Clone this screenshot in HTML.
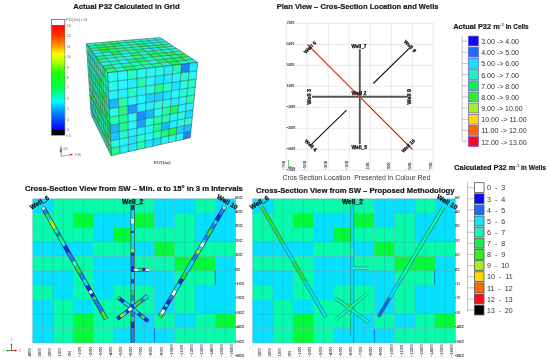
<!DOCTYPE html>
<html><head><meta charset="utf-8"><title>P32 figure</title>
<style>
html,body{margin:0;padding:0;background:#fff;}
body{width:550px;height:363px;overflow:hidden;}
svg{display:block;font-family:"Liberation Sans","DejaVu Sans",sans-serif;}
</style></head><body>
<svg width="550" height="363" viewBox="0 0 550 363">
<rect width="550" height="363" fill="#fff"/>
<text x="73.20" y="8.70" font-size="7.7" font-weight="bold" fill="#1a1a1a" textLength="106.40" lengthAdjust="spacingAndGlyphs" stroke="#1a1a1a" stroke-width="0.22">Actual P32 Calculated in Grid</text>
<text x="276.80" y="9.10" font-size="7.7" font-weight="bold" fill="#1a1a1a" textLength="161.70" lengthAdjust="spacingAndGlyphs" stroke="#1a1a1a" stroke-width="0.22">Plan View – Cros-Section Location and Wells</text>
<text x="24.90" y="191.40" font-size="7.6" font-weight="bold" fill="#1a1a1a" textLength="218.00" lengthAdjust="spacingAndGlyphs" stroke="#1a1a1a" stroke-width="0.22">Cross-Section View from SW – Min. α to 15° in 3 m Intervals</text>
<text x="256.00" y="192.90" font-size="7.6" font-weight="bold" fill="#1a1a1a" textLength="198.50" lengthAdjust="spacingAndGlyphs" stroke="#1a1a1a" stroke-width="0.22">Cross-Section View from SW – Proposed Methodology</text>
<g>
<polygon points="86.30,43.70 94.18,43.04 96.03,45.33 87.99,46.03" fill="#28f4e4"/>
<polygon points="87.99,46.03 96.03,45.33 97.96,47.73 89.75,48.46" fill="#21f590"/>
<polygon points="89.75,48.46 97.96,47.73 99.98,50.24 91.60,51.01" fill="#20f486"/>
<polygon points="91.60,51.01 99.98,50.24 102.10,52.87 93.53,53.68" fill="#29f1f9"/>
<polygon points="93.53,53.68 102.10,52.87 104.32,55.62 95.56,56.48" fill="#28f3e8"/>
<polygon points="95.56,56.48 104.32,55.62 106.65,58.51 97.69,59.41" fill="#1ff37a"/>
<polygon points="97.69,59.41 106.65,58.51 109.09,61.55 99.93,62.50" fill="#21f592"/>
<polygon points="99.93,62.50 109.09,61.55 111.67,64.75 102.29,65.76" fill="#29f1f9"/>
<polygon points="102.29,65.76 111.67,64.75 114.38,68.12 104.78,69.18" fill="#22ef3e"/>
<polygon points="104.78,69.18 114.38,68.12 117.24,71.67 107.40,72.80" fill="#22f6a0"/>
<polygon points="94.18,43.04 101.94,42.38 103.95,44.65 96.03,45.33" fill="#25f6c2"/>
<polygon points="96.03,45.33 103.95,44.65 106.04,47.01 97.96,47.73" fill="#1cf15c"/>
<polygon points="97.96,47.73 106.04,47.01 108.23,49.48 99.98,50.24" fill="#26ee3b"/>
<polygon points="99.98,50.24 108.23,49.48 110.52,52.07 102.10,52.87" fill="#1af047"/>
<polygon points="102.10,52.87 110.52,52.07 112.92,54.78 104.32,55.62" fill="#27f5d6"/>
<polygon points="104.32,55.62 112.92,54.78 115.44,57.63 106.65,58.51" fill="#23f7ae"/>
<polygon points="106.65,58.51 115.44,57.63 118.09,60.62 109.09,61.55" fill="#29f1f8"/>
<polygon points="109.09,61.55 118.09,60.62 120.87,63.76 111.67,64.75" fill="#21f593"/>
<polygon points="111.67,64.75 120.87,63.76 123.80,67.07 114.38,68.12" fill="#29f2f0"/>
<polygon points="114.38,68.12 123.80,67.07 126.89,70.56 117.24,71.67" fill="#24f7b2"/>
<polygon points="101.94,42.38 109.59,41.74 111.74,43.97 103.95,44.65" fill="#20f483"/>
<polygon points="103.95,44.65 111.74,43.97 113.99,46.30 106.04,47.01" fill="#20f485"/>
<polygon points="106.04,47.01 113.99,46.30 116.34,48.74 108.23,49.48" fill="#3beb27"/>
<polygon points="108.23,49.48 116.34,48.74 118.80,51.29 110.52,52.07" fill="#23f7a8"/>
<polygon points="110.52,52.07 118.80,51.29 121.38,53.96 112.92,54.78" fill="#1cf044"/>
<polygon points="112.92,54.78 121.38,53.96 124.08,56.76 115.44,57.63" fill="#20f488"/>
<polygon points="115.44,57.63 124.08,56.76 126.92,59.70 118.09,60.62" fill="#27f5da"/>
<polygon points="118.09,60.62 126.92,59.70 129.91,62.79 120.87,63.76" fill="#29f1fa"/>
<polygon points="120.87,63.76 129.91,62.79 133.05,66.04 123.80,67.07" fill="#22f69e"/>
<polygon points="123.80,67.07 133.05,66.04 136.35,69.47 126.89,70.56" fill="#1df268"/>
<polygon points="109.59,41.74 117.12,41.11 119.42,43.31 111.74,43.97" fill="#20f37f"/>
<polygon points="111.74,43.97 119.42,43.31 121.82,45.61 113.99,46.30" fill="#1af14e"/>
<polygon points="113.99,46.30 121.82,45.61 124.33,48.01 116.34,48.74" fill="#22f6a2"/>
<polygon points="116.34,48.74 124.33,48.01 126.95,50.52 118.80,51.29" fill="#21f596"/>
<polygon points="118.80,51.29 126.95,50.52 129.70,53.15 121.38,53.96" fill="#25f6c5"/>
<polygon points="121.38,53.96 129.70,53.15 132.58,55.90 124.08,56.76" fill="#28f4e5"/>
<polygon points="124.08,56.76 132.58,55.90 135.60,58.80 126.92,59.70" fill="#27f5d2"/>
<polygon points="126.92,59.70 135.60,58.80 138.78,61.84 129.91,62.79" fill="#1ef270"/>
<polygon points="129.91,62.79 138.78,61.84 142.12,65.03 133.05,66.04" fill="#24f7b4"/>
<polygon points="133.05,66.04 142.12,65.03 145.64,68.40 136.35,69.47" fill="#23f6a5"/>
<polygon points="117.12,41.11 124.53,40.48 126.97,42.65 119.42,43.31" fill="#26f6cd"/>
<polygon points="119.42,43.31 126.97,42.65 129.52,44.92 121.82,45.61" fill="#27f5dd"/>
<polygon points="121.82,45.61 129.52,44.92 132.18,47.29 124.33,48.01" fill="#24f7b5"/>
<polygon points="124.33,48.01 132.18,47.29 134.96,49.76 126.95,50.52" fill="#23f6a5"/>
<polygon points="126.95,50.52 134.96,49.76 137.87,52.35 129.70,53.15" fill="#24f7af"/>
<polygon points="129.70,53.15 137.87,52.35 140.92,55.06 132.58,55.90" fill="#1fef41"/>
<polygon points="132.58,55.90 140.92,55.06 144.12,57.91 135.60,58.80" fill="#24f7b0"/>
<polygon points="135.60,58.80 144.12,57.91 147.49,60.90 138.78,61.84" fill="#1af04b"/>
<polygon points="138.78,61.84 147.49,60.90 151.02,64.04 142.12,65.03" fill="#23f7a9"/>
<polygon points="142.12,65.03 151.02,64.04 154.74,67.35 145.64,68.40" fill="#23f7ad"/>
<polygon points="124.53,40.48 131.84,39.87 134.41,42.01 126.97,42.65" fill="#22f6a1"/>
<polygon points="126.97,42.65 134.41,42.01 137.10,44.24 129.52,44.92" fill="#24f7b6"/>
<polygon points="129.52,44.92 137.10,44.24 139.91,46.58 132.18,47.29" fill="#22f6a0"/>
<polygon points="132.18,47.29 139.91,46.58 142.84,49.01 134.96,49.76" fill="#26f6c9"/>
<polygon points="134.96,49.76 142.84,49.01 145.91,51.57 137.87,52.35" fill="#1cf159"/>
<polygon points="137.87,52.35 145.91,51.57 149.13,54.24 140.92,55.06" fill="#27f5d8"/>
<polygon points="140.92,55.06 149.13,54.24 152.50,57.04 144.12,57.91" fill="#22f596"/>
<polygon points="144.12,57.91 152.50,57.04 156.04,59.98 147.49,60.90" fill="#24ebfa"/>
<polygon points="147.49,60.90 156.04,59.98 159.76,63.07 151.02,64.04" fill="#26f6c7"/>
<polygon points="151.02,64.04 159.76,63.07 163.68,66.33 154.74,67.35" fill="#21f595"/>
<polygon points="131.84,39.87 139.03,39.26 141.74,41.38 134.41,42.01" fill="#27f5da"/>
<polygon points="134.41,42.01 141.74,41.38 144.57,43.58 137.10,44.24" fill="#23f7af"/>
<polygon points="137.10,44.24 144.57,43.58 147.52,45.88 139.91,46.58" fill="#1bf156"/>
<polygon points="139.91,46.58 147.52,45.88 150.60,48.28 142.84,49.01" fill="#20f37f"/>
<polygon points="142.84,49.01 150.60,48.28 153.82,50.79 145.91,51.57" fill="#27eefa"/>
<polygon points="145.91,51.57 153.82,50.79 157.20,53.43 149.13,54.24" fill="#20f37f"/>
<polygon points="149.13,54.24 157.20,53.43 160.73,56.18 152.50,57.04" fill="#25ee3c"/>
<polygon points="152.50,57.04 160.73,56.18 164.44,59.08 156.04,59.98" fill="#23f7a7"/>
<polygon points="156.04,59.98 164.44,59.08 168.34,62.12 159.76,63.07" fill="#1bf153"/>
<polygon points="159.76,63.07 168.34,62.12 172.45,65.32 163.68,66.33" fill="#26f6cc"/>
<polygon points="139.03,39.26 146.12,38.67 148.96,40.75 141.74,41.38" fill="#29f2f2"/>
<polygon points="141.74,41.38 148.96,40.75 151.92,42.92 144.57,43.58" fill="#22f59a"/>
<polygon points="144.57,43.58 151.92,42.92 155.00,45.19 147.52,45.88" fill="#21e8fa"/>
<polygon points="147.52,45.88 155.00,45.19 158.23,47.56 150.60,48.28" fill="#22f597"/>
<polygon points="150.60,48.28 158.23,47.56 161.60,50.04 153.82,50.79" fill="#1fe5fa"/>
<polygon points="153.82,50.79 161.60,50.04 165.13,52.63 157.20,53.43" fill="#23f7a7"/>
<polygon points="157.20,53.43 165.13,52.63 168.82,55.34 160.73,56.18" fill="#1ef26c"/>
<polygon points="160.73,56.18 168.82,55.34 172.70,58.19 164.44,59.08" fill="#24f6b9"/>
<polygon points="164.44,59.08 172.70,58.19 176.77,61.18 168.34,62.12" fill="#1df263"/>
<polygon points="168.34,62.12 176.77,61.18 181.05,64.33 172.45,65.32" fill="#1af046"/>
<polygon points="146.12,38.67 153.11,38.08 156.07,40.14 148.96,40.75" fill="#29f2f2"/>
<polygon points="148.96,40.75 156.07,40.14 159.16,42.28 151.92,42.92" fill="#24ebfa"/>
<polygon points="151.92,42.92 159.16,42.28 162.38,44.51 155.00,45.19" fill="#26f6c9"/>
<polygon points="155.00,45.19 162.38,44.51 165.74,46.85 158.23,47.56" fill="#1bf151"/>
<polygon points="158.23,47.56 165.74,46.85 169.25,49.29 161.60,50.04" fill="#23f6a6"/>
<polygon points="161.60,50.04 169.25,49.29 172.93,51.84 165.13,52.63" fill="#27eefa"/>
<polygon points="165.13,52.63 172.93,51.84 176.78,54.52 168.82,55.34" fill="#29ee38"/>
<polygon points="168.82,55.34 176.78,54.52 180.81,57.32 172.70,58.19" fill="#22f69d"/>
<polygon points="172.70,58.19 180.81,57.32 185.05,60.26 176.77,61.18" fill="#1df26a"/>
<polygon points="176.77,61.18 185.05,60.26 189.50,63.35 181.05,64.33" fill="#25f6bd"/>
<polygon points="153.11,38.08 160.00,37.50 163.08,39.53 156.07,40.14" fill="#27f5d8"/>
<polygon points="156.07,40.14 163.08,39.53 166.29,41.64 159.16,42.28" fill="#29f1fa"/>
<polygon points="159.16,42.28 166.29,41.64 169.64,43.85 162.38,44.51" fill="#27f5d8"/>
<polygon points="162.38,44.51 169.64,43.85 173.13,46.15 165.74,46.85" fill="#22f69e"/>
<polygon points="165.74,46.85 173.13,46.15 176.78,48.55 169.25,49.29" fill="#26edfa"/>
<polygon points="169.25,49.29 176.78,48.55 180.60,51.07 172.93,51.84" fill="#24f7b5"/>
<polygon points="172.93,51.84 180.60,51.07 184.60,53.70 176.78,54.52" fill="#24f7b6"/>
<polygon points="176.78,54.52 184.60,53.70 188.79,56.46 180.81,57.32" fill="#39eb29"/>
<polygon points="180.81,57.32 188.79,56.46 193.18,59.36 185.05,60.26" fill="#21f594"/>
<polygon points="185.05,60.26 193.18,59.36 197.80,62.40 189.50,63.35" fill="#27f5dc"/>
<line x1="86.30" y1="43.70" x2="107.40" y2="72.80" stroke="#163a30" stroke-width="0.45"/>
<line x1="94.18" y1="43.04" x2="117.24" y2="71.67" stroke="#163a30" stroke-width="0.45"/>
<line x1="101.94" y1="42.38" x2="126.89" y2="70.56" stroke="#163a30" stroke-width="0.45"/>
<line x1="109.59" y1="41.74" x2="136.35" y2="69.47" stroke="#163a30" stroke-width="0.45"/>
<line x1="117.12" y1="41.11" x2="145.64" y2="68.40" stroke="#163a30" stroke-width="0.45"/>
<line x1="124.53" y1="40.48" x2="154.74" y2="67.35" stroke="#163a30" stroke-width="0.45"/>
<line x1="131.84" y1="39.87" x2="163.68" y2="66.33" stroke="#163a30" stroke-width="0.45"/>
<line x1="139.03" y1="39.26" x2="172.45" y2="65.32" stroke="#163a30" stroke-width="0.45"/>
<line x1="146.12" y1="38.67" x2="181.05" y2="64.33" stroke="#163a30" stroke-width="0.45"/>
<line x1="153.11" y1="38.08" x2="189.50" y2="63.35" stroke="#163a30" stroke-width="0.45"/>
<line x1="160.00" y1="37.50" x2="197.80" y2="62.40" stroke="#163a30" stroke-width="0.45"/>
<line x1="86.30" y1="43.70" x2="160.00" y2="37.50" stroke="#163a30" stroke-width="0.45"/>
<line x1="87.99" y1="46.03" x2="163.08" y2="39.53" stroke="#163a30" stroke-width="0.45"/>
<line x1="89.75" y1="48.46" x2="166.29" y2="41.64" stroke="#163a30" stroke-width="0.45"/>
<line x1="91.60" y1="51.01" x2="169.64" y2="43.85" stroke="#163a30" stroke-width="0.45"/>
<line x1="93.53" y1="53.68" x2="173.13" y2="46.15" stroke="#163a30" stroke-width="0.45"/>
<line x1="95.56" y1="56.48" x2="176.78" y2="48.55" stroke="#163a30" stroke-width="0.45"/>
<line x1="97.69" y1="59.41" x2="180.60" y2="51.07" stroke="#163a30" stroke-width="0.45"/>
<line x1="99.93" y1="62.50" x2="184.60" y2="53.70" stroke="#163a30" stroke-width="0.45"/>
<line x1="102.29" y1="65.76" x2="188.79" y2="56.46" stroke="#163a30" stroke-width="0.45"/>
<line x1="104.78" y1="69.18" x2="193.18" y2="59.36" stroke="#163a30" stroke-width="0.45"/>
<line x1="107.40" y1="72.80" x2="197.80" y2="62.40" stroke="#163a30" stroke-width="0.45"/>
<polygon points="107.40,72.80 117.54,71.63 117.81,80.96 107.83,82.23" fill="#29f9e9"/>
<polygon points="107.83,82.23 117.81,80.96 118.07,90.01 108.25,91.38" fill="#29f9e7"/>
<polygon points="108.25,91.38 118.07,90.01 118.33,98.79 108.66,100.26" fill="#25f1ff"/>
<polygon points="108.66,100.26 118.33,98.79 118.58,107.32 109.05,108.88" fill="#18b6ff"/>
<polygon points="109.05,108.88 118.58,107.32 118.82,115.61 109.44,117.25" fill="#28f9e3"/>
<polygon points="109.44,117.25 118.82,115.61 119.06,123.66 109.81,125.37" fill="#24fcb0"/>
<polygon points="109.81,125.37 119.06,123.66 119.29,131.49 110.17,133.28" fill="#18b8ff"/>
<polygon points="110.17,133.28 119.29,131.49 119.51,139.10 110.52,140.96" fill="#19c4ff"/>
<polygon points="110.52,140.96 119.51,139.10 119.73,146.51 110.87,148.43" fill="#28fae0"/>
<polygon points="110.87,148.43 119.73,146.51 119.94,153.72 111.20,155.70" fill="#22fa9d"/>
<polygon points="117.54,71.63 127.40,70.50 127.52,79.72 117.81,80.96" fill="#2af6fc"/>
<polygon points="117.81,80.96 127.52,79.72 127.64,88.67 118.07,90.01" fill="#29f5ff"/>
<polygon points="118.07,90.01 127.64,88.67 127.76,97.36 118.33,98.79" fill="#25f0ff"/>
<polygon points="118.33,98.79 127.76,97.36 127.87,105.80 118.58,107.32" fill="#24fcb1"/>
<polygon points="118.58,107.32 127.87,105.80 127.98,114.01 118.82,115.61" fill="#21f98e"/>
<polygon points="118.82,115.61 127.98,114.01 128.08,121.99 119.06,123.66" fill="#22fa94"/>
<polygon points="119.06,123.66 128.08,121.99 128.19,129.74 119.29,131.49" fill="#21f98f"/>
<polygon points="119.29,131.49 128.19,129.74 128.29,137.29 119.51,139.10" fill="#25fbbf"/>
<polygon points="119.51,139.10 128.29,137.29 128.38,144.64 119.73,146.51" fill="#2af7fa"/>
<polygon points="119.73,146.51 128.38,144.64 128.48,151.79 119.94,153.72" fill="#25f0ff"/>
<polygon points="127.40,70.50 137.01,69.39 136.99,78.51 127.52,79.72" fill="#26fbc4"/>
<polygon points="127.52,79.72 136.99,78.51 136.97,87.37 127.64,88.67" fill="#23eeff"/>
<polygon points="127.64,88.67 136.97,87.37 136.95,95.97 127.76,97.36" fill="#26fbc6"/>
<polygon points="127.76,97.36 136.95,95.97 136.93,104.33 127.87,105.80" fill="#29f5ff"/>
<polygon points="127.87,105.80 136.93,104.33 136.91,112.45 127.98,114.01" fill="#1c98ff"/>
<polygon points="127.98,114.01 136.91,112.45 136.89,120.35 128.08,121.99" fill="#29f7f4"/>
<polygon points="128.08,121.99 136.89,120.35 136.87,128.04 128.19,129.74" fill="#2af6ff"/>
<polygon points="128.19,129.74 136.87,128.04 136.86,135.52 128.29,137.29" fill="#22edff"/>
<polygon points="128.29,137.29 136.86,135.52 136.84,142.81 128.38,144.64" fill="#1ee8ff"/>
<polygon points="128.38,144.64 136.84,142.81 136.82,149.90 128.48,151.79" fill="#1de8ff"/>
<polygon points="137.01,69.39 146.37,68.32 146.21,77.34 136.99,78.51" fill="#29f8ee"/>
<polygon points="136.99,78.51 146.21,77.34 146.06,86.10 136.97,87.37" fill="#24fcaf"/>
<polygon points="136.97,87.37 146.06,86.10 145.91,94.61 136.95,95.97" fill="#26f1ff"/>
<polygon points="136.95,95.97 145.91,94.61 145.77,102.88 136.93,104.33" fill="#27f3ff"/>
<polygon points="136.93,104.33 145.77,102.88 145.63,110.93 136.91,112.45" fill="#26f1ff"/>
<polygon points="136.91,112.45 145.63,110.93 145.49,118.76 136.89,120.35" fill="#1d8dff"/>
<polygon points="136.89,120.35 145.49,118.76 145.36,126.38 136.87,128.04" fill="#1aa2ff"/>
<polygon points="136.87,128.04 145.36,126.38 145.23,133.79 136.86,135.52" fill="#24efff"/>
<polygon points="136.86,135.52 145.23,133.79 145.10,141.02 136.84,142.81" fill="#26fbcc"/>
<polygon points="136.84,142.81 145.10,141.02 144.98,148.06 136.82,149.90" fill="#25fcb8"/>
<polygon points="146.37,68.32 155.49,67.27 155.20,76.19 146.21,77.34" fill="#29f7f5"/>
<polygon points="146.21,77.34 155.20,76.19 154.92,84.86 146.06,86.10" fill="#2af6ff"/>
<polygon points="146.06,86.10 154.92,84.86 154.65,93.28 145.91,94.61" fill="#28fae0"/>
<polygon points="145.91,94.61 154.65,93.28 154.39,101.47 145.77,102.88" fill="#1ad2ff"/>
<polygon points="145.77,102.88 154.39,101.47 154.13,109.44 145.63,110.93" fill="#22edff"/>
<polygon points="145.63,110.93 154.13,109.44 153.89,117.20 145.49,118.76" fill="#18b8ff"/>
<polygon points="145.49,118.76 153.89,117.20 153.64,124.75 145.36,126.38" fill="#27fad7"/>
<polygon points="145.36,126.38 153.64,124.75 153.41,132.10 145.23,133.79" fill="#29f5ff"/>
<polygon points="145.23,133.79 153.41,132.10 153.18,139.27 145.10,141.02" fill="#2af6fe"/>
<polygon points="145.10,141.02 153.18,139.27 152.95,146.25 144.98,148.06" fill="#1de7ff"/>
<polygon points="155.49,67.27 164.38,66.25 163.97,75.07 155.20,76.19" fill="#28fadf"/>
<polygon points="155.20,76.19 163.97,75.07 163.57,83.65 154.92,84.86" fill="#1ce3ff"/>
<polygon points="154.92,84.86 163.57,83.65 163.18,91.99 154.65,93.28" fill="#22fa92"/>
<polygon points="154.65,93.28 163.18,91.99 162.81,100.10 154.39,101.47" fill="#1acfff"/>
<polygon points="154.39,101.47 162.81,100.10 162.44,107.99 154.13,109.44" fill="#29f9e9"/>
<polygon points="154.13,109.44 162.44,107.99 162.09,115.68 153.89,117.20" fill="#2af7f8"/>
<polygon points="153.89,117.20 162.09,115.68 161.74,123.16 153.64,124.75" fill="#24fcb2"/>
<polygon points="153.64,124.75 161.74,123.16 161.40,130.45 153.41,132.10" fill="#21f989"/>
<polygon points="153.41,132.10 161.40,130.45 161.07,137.56 153.18,139.27" fill="#26fbc8"/>
<polygon points="153.18,139.27 161.07,137.56 160.75,144.49 152.95,146.25" fill="#1bdeff"/>
<polygon points="164.38,66.25 173.04,65.25 172.52,73.98 163.97,75.07" fill="#24efff"/>
<polygon points="163.97,75.07 172.52,73.98 172.01,82.47 163.57,83.65" fill="#20eaff"/>
<polygon points="163.57,83.65 172.01,82.47 171.51,90.72 163.18,91.99" fill="#27fbcf"/>
<polygon points="163.18,91.99 171.51,90.72 171.03,98.76 162.81,100.10" fill="#1de7ff"/>
<polygon points="162.81,100.10 171.03,98.76 170.56,106.58 162.44,107.99" fill="#28fada"/>
<polygon points="162.44,107.99 170.56,106.58 170.10,114.19 162.09,115.68" fill="#23fba9"/>
<polygon points="162.09,115.68 170.10,114.19 169.65,121.61 161.74,123.16" fill="#24fcae"/>
<polygon points="161.74,123.16 169.65,121.61 169.22,128.84 161.40,130.45" fill="#18b8ff"/>
<polygon points="161.40,130.45 169.22,128.84 168.79,135.89 161.07,137.56" fill="#1ff877"/>
<polygon points="161.07,137.56 168.79,135.89 168.38,142.76 160.75,144.49" fill="#29f5ff"/>
<polygon points="173.04,65.25 181.50,64.28 180.86,72.91 172.52,73.98" fill="#24fcad"/>
<polygon points="172.52,73.98 180.86,72.91 180.25,81.31 172.01,82.47" fill="#28f4ff"/>
<polygon points="172.01,82.47 180.25,81.31 179.64,89.49 171.51,90.72" fill="#1ce3ff"/>
<polygon points="171.51,90.72 179.64,89.49 179.06,97.44 171.03,98.76" fill="#2af6fe"/>
<polygon points="171.03,98.76 179.06,97.44 178.49,105.19 170.56,106.58" fill="#22edff"/>
<polygon points="170.56,106.58 178.49,105.19 177.93,112.74 170.10,114.19" fill="#1cf657"/>
<polygon points="170.10,114.19 177.93,112.74 177.39,120.09 169.65,121.61" fill="#27f3ff"/>
<polygon points="169.65,121.61 177.39,120.09 176.86,127.26 169.22,128.84" fill="#22edff"/>
<polygon points="169.22,128.84 176.86,127.26 176.35,134.25 168.79,135.89" fill="#1df545"/>
<polygon points="168.79,135.89 176.35,134.25 175.85,141.07 168.38,142.76" fill="#28f9e4"/>
<polygon points="181.50,64.28 189.75,63.33 189.01,71.87 180.86,72.91" fill="#1e82ff"/>
<polygon points="180.86,72.91 189.01,71.87 188.29,80.19 180.25,81.31" fill="#27fbd2"/>
<polygon points="180.25,81.31 188.29,80.19 187.58,88.28 179.64,89.49" fill="#29f8ee"/>
<polygon points="179.64,89.49 187.58,88.28 186.90,96.16 179.06,97.44" fill="#27fbd2"/>
<polygon points="179.06,97.44 186.90,96.16 186.24,103.84 178.49,105.19" fill="#28f4ff"/>
<polygon points="178.49,105.19 186.24,103.84 185.59,111.32 177.93,112.74" fill="#27f2ff"/>
<polygon points="177.93,112.74 185.59,111.32 184.95,118.61 177.39,120.09" fill="#28fadf"/>
<polygon points="177.39,120.09 184.95,118.61 184.34,125.72 176.86,127.26" fill="#29f8ed"/>
<polygon points="176.86,127.26 184.34,125.72 183.74,132.65 176.35,134.25" fill="#1ad1ff"/>
<polygon points="176.35,134.25 183.74,132.65 183.15,139.42 175.85,141.07" fill="#29f7f5"/>
<polygon points="189.75,63.33 197.80,62.40 196.96,70.86 189.01,71.87" fill="#20eaff"/>
<polygon points="189.01,71.87 196.96,70.86 196.14,79.09 188.29,80.19" fill="#2af6ff"/>
<polygon points="188.29,80.19 196.14,79.09 195.34,87.10 187.58,88.28" fill="#26fbc5"/>
<polygon points="187.58,88.28 195.34,87.10 194.57,94.91 186.90,96.16" fill="#27fad3"/>
<polygon points="186.90,96.16 194.57,94.91 193.81,102.52 186.24,103.84" fill="#25fcba"/>
<polygon points="186.24,103.84 193.81,102.52 193.07,109.93 185.59,111.32" fill="#27f3ff"/>
<polygon points="185.59,111.32 193.07,109.93 192.35,117.16 184.95,118.61" fill="#1bd9ff"/>
<polygon points="184.95,118.61 192.35,117.16 191.65,124.21 184.34,125.72" fill="#28fadf"/>
<polygon points="184.34,125.72 191.65,124.21 190.97,131.09 183.74,132.65" fill="#18bdff"/>
<polygon points="183.74,132.65 190.97,131.09 190.30,137.80 183.15,139.42" fill="#1e85ff"/>
<line x1="107.40" y1="72.80" x2="111.20" y2="155.70" stroke="#163a30" stroke-width="0.45"/>
<line x1="117.54" y1="71.63" x2="119.94" y2="153.72" stroke="#163a30" stroke-width="0.45"/>
<line x1="127.40" y1="70.50" x2="128.48" y2="151.79" stroke="#163a30" stroke-width="0.45"/>
<line x1="137.01" y1="69.39" x2="136.82" y2="149.90" stroke="#163a30" stroke-width="0.45"/>
<line x1="146.37" y1="68.32" x2="144.98" y2="148.06" stroke="#163a30" stroke-width="0.45"/>
<line x1="155.49" y1="67.27" x2="152.95" y2="146.25" stroke="#163a30" stroke-width="0.45"/>
<line x1="164.38" y1="66.25" x2="160.75" y2="144.49" stroke="#163a30" stroke-width="0.45"/>
<line x1="173.04" y1="65.25" x2="168.38" y2="142.76" stroke="#163a30" stroke-width="0.45"/>
<line x1="181.50" y1="64.28" x2="175.85" y2="141.07" stroke="#163a30" stroke-width="0.45"/>
<line x1="189.75" y1="63.33" x2="183.15" y2="139.42" stroke="#163a30" stroke-width="0.45"/>
<line x1="197.80" y1="62.40" x2="190.30" y2="137.80" stroke="#163a30" stroke-width="0.45"/>
<line x1="107.40" y1="72.80" x2="197.80" y2="62.40" stroke="#163a30" stroke-width="0.45"/>
<line x1="107.83" y1="82.23" x2="196.96" y2="70.86" stroke="#163a30" stroke-width="0.45"/>
<line x1="108.25" y1="91.38" x2="196.14" y2="79.09" stroke="#163a30" stroke-width="0.45"/>
<line x1="108.66" y1="100.26" x2="195.34" y2="87.10" stroke="#163a30" stroke-width="0.45"/>
<line x1="109.05" y1="108.88" x2="194.57" y2="94.91" stroke="#163a30" stroke-width="0.45"/>
<line x1="109.44" y1="117.25" x2="193.81" y2="102.52" stroke="#163a30" stroke-width="0.45"/>
<line x1="109.81" y1="125.37" x2="193.07" y2="109.93" stroke="#163a30" stroke-width="0.45"/>
<line x1="110.17" y1="133.28" x2="192.35" y2="117.16" stroke="#163a30" stroke-width="0.45"/>
<line x1="110.52" y1="140.96" x2="191.65" y2="124.21" stroke="#163a30" stroke-width="0.45"/>
<line x1="110.87" y1="148.43" x2="190.97" y2="131.09" stroke="#163a30" stroke-width="0.45"/>
<line x1="111.20" y1="155.70" x2="190.30" y2="137.80" stroke="#163a30" stroke-width="0.45"/>
<polygon points="86.30,43.70 88.05,46.12 88.58,53.94 86.83,51.40" fill="#26e8f2"/>
<polygon points="86.83,51.40 88.58,53.94 89.09,61.62 87.35,58.97" fill="#25eec6"/>
<polygon points="87.35,58.97 89.09,61.62 89.60,69.17 87.86,66.40" fill="#26edd8"/>
<polygon points="87.86,66.40 89.60,69.17 90.09,76.58 88.36,73.71" fill="#25eecb"/>
<polygon points="88.36,73.71 90.09,76.58 90.58,83.86 88.86,80.88" fill="#27ebe8"/>
<polygon points="88.86,80.88 90.58,83.86 91.06,91.02 89.34,87.94" fill="#27ece2"/>
<polygon points="89.34,87.94 91.06,91.02 91.53,98.05 89.82,94.88" fill="#22efaa"/>
<polygon points="89.82,94.88 91.53,98.05 91.99,104.96 90.29,101.70" fill="#19e94b"/>
<polygon points="90.29,101.70 91.99,104.96 92.44,111.76 90.75,108.40" fill="#19c4f2"/>
<polygon points="90.75,108.40 92.44,111.76 92.89,118.44 91.20,115.00" fill="#1ad5f2"/>
<polygon points="88.05,46.12 89.87,48.63 90.39,56.58 88.58,53.94" fill="#23efad"/>
<polygon points="88.58,53.94 90.39,56.58 90.90,64.38 89.09,61.62" fill="#21ee93"/>
<polygon points="89.09,61.62 90.90,64.38 91.40,72.04 89.60,69.17" fill="#22efaa"/>
<polygon points="89.60,69.17 91.40,72.04 91.88,79.56 90.09,76.58" fill="#1deb67"/>
<polygon points="90.09,76.58 91.88,79.56 92.36,86.95 90.58,83.86" fill="#24eebf"/>
<polygon points="90.58,83.86 92.36,86.95 92.84,94.21 91.06,91.02" fill="#23efab"/>
<polygon points="91.06,91.02 92.84,94.21 93.30,101.34 91.53,98.05" fill="#23e73b"/>
<polygon points="91.53,98.05 93.30,101.34 93.75,108.35 91.99,104.96" fill="#26e7f2"/>
<polygon points="91.99,104.96 93.75,108.35 94.20,115.23 92.44,111.76" fill="#27ebe4"/>
<polygon points="92.44,111.76 94.20,115.23 94.64,122.00 92.89,118.44" fill="#1cddf2"/>
<polygon points="89.87,48.63 91.77,51.24 92.27,59.32 90.39,56.58" fill="#22efa6"/>
<polygon points="90.39,56.58 92.27,59.32 92.77,67.24 90.90,64.38" fill="#25eec4"/>
<polygon points="90.90,64.38 92.77,67.24 93.26,75.02 91.40,72.04" fill="#26eecf"/>
<polygon points="91.40,72.04 93.26,75.02 93.74,82.66 91.88,79.56" fill="#25eec9"/>
<polygon points="91.88,79.56 93.74,82.66 94.22,90.16 92.36,86.95" fill="#20ed88"/>
<polygon points="92.36,86.95 94.22,90.16 94.68,97.52 92.84,94.21" fill="#19e94b"/>
<polygon points="92.84,94.21 94.68,97.52 95.13,104.75 93.30,101.34" fill="#20ed87"/>
<polygon points="93.30,101.34 95.13,104.75 95.58,111.85 93.75,108.35" fill="#22efa3"/>
<polygon points="93.75,108.35 95.58,111.85 96.02,118.83 94.20,115.23" fill="#26edd9"/>
<polygon points="94.20,115.23 96.02,118.83 96.45,125.69 94.64,122.00" fill="#1fed83"/>
<polygon points="91.77,51.24 93.73,53.95 94.23,62.16 92.27,59.32" fill="#22e3f2"/>
<polygon points="92.27,59.32 94.23,62.16 94.72,70.22 92.77,67.24" fill="#25eec3"/>
<polygon points="92.77,67.24 94.72,70.22 95.20,78.12 93.26,75.02" fill="#25e7f2"/>
<polygon points="93.26,75.02 95.20,78.12 95.68,85.87 93.74,82.66" fill="#22efa8"/>
<polygon points="93.74,82.66 95.68,85.87 96.14,93.48 94.22,90.16" fill="#26eecf"/>
<polygon points="94.22,90.16 96.14,93.48 96.59,100.95 94.68,97.52" fill="#21ef9d"/>
<polygon points="94.68,97.52 96.59,100.95 97.04,108.29 95.13,104.75" fill="#39e426"/>
<polygon points="95.13,104.75 97.04,108.29 97.48,115.49 95.58,111.85" fill="#25eecb"/>
<polygon points="95.58,111.85 97.48,115.49 97.91,122.56 96.02,118.83" fill="#23efac"/>
<polygon points="96.02,118.83 97.91,122.56 98.33,129.51 96.45,125.69" fill="#1edef2"/>
<polygon points="93.73,53.95 95.78,56.77 96.27,65.12 94.23,62.16" fill="#25e7f2"/>
<polygon points="94.23,62.16 96.27,65.12 96.75,73.31 94.72,70.22" fill="#20ed8a"/>
<polygon points="94.72,70.22 96.75,73.31 97.22,81.33 95.20,78.12" fill="#24efba"/>
<polygon points="95.20,78.12 97.22,81.33 97.68,89.21 95.68,85.87" fill="#1deb6d"/>
<polygon points="95.68,85.87 97.68,89.21 98.14,96.93 96.14,93.48" fill="#28eaf1"/>
<polygon points="96.14,93.48 98.14,96.93 98.58,104.52 96.59,100.95" fill="#28eaf2"/>
<polygon points="96.59,100.95 98.58,104.52 99.02,111.96 97.04,108.29" fill="#1ceb65"/>
<polygon points="97.04,108.29 99.02,111.96 99.44,119.26 97.48,115.49" fill="#22efa2"/>
<polygon points="97.48,115.49 99.44,119.26 99.86,126.43 97.91,122.56" fill="#20e83e"/>
<polygon points="97.91,122.56 99.86,126.43 100.28,133.47 98.33,129.51" fill="#23efab"/>
<polygon points="95.78,56.77 97.91,59.71 98.39,68.20 96.27,65.12" fill="#21ee9a"/>
<polygon points="96.27,65.12 98.39,68.20 98.86,76.52 96.75,73.31" fill="#24efb8"/>
<polygon points="96.75,73.31 98.86,76.52 99.32,84.68 97.22,81.33" fill="#1eec77"/>
<polygon points="97.22,81.33 99.32,84.68 99.77,92.68 97.68,89.21" fill="#21ee99"/>
<polygon points="97.68,89.21 99.77,92.68 100.21,100.52 98.14,96.93" fill="#1eeb70"/>
<polygon points="98.14,96.93 100.21,100.52 100.64,108.22 98.58,104.52" fill="#22efaa"/>
<polygon points="98.58,104.52 100.64,108.22 101.07,115.77 99.02,111.96" fill="#1ae94d"/>
<polygon points="99.02,111.96 101.07,115.77 101.49,123.18 99.44,119.26" fill="#24eebd"/>
<polygon points="99.44,119.26 101.49,123.18 101.90,130.45 99.86,126.43" fill="#25eecc"/>
<polygon points="99.86,126.43 101.90,130.45 102.30,137.58 100.28,133.47" fill="#25eec7"/>
<polygon points="97.91,59.71 100.13,62.78 100.60,71.41 98.39,68.20" fill="#23efae"/>
<polygon points="98.39,68.20 100.60,71.41 101.05,79.87 98.86,76.52" fill="#24efb6"/>
<polygon points="98.86,76.52 101.05,79.87 101.50,88.16 99.32,84.68" fill="#2be634"/>
<polygon points="99.32,84.68 101.50,88.16 101.94,96.29 99.77,92.68" fill="#20ed8e"/>
<polygon points="99.77,92.68 101.94,96.29 102.37,104.26 100.21,100.52" fill="#1fec7c"/>
<polygon points="100.21,100.52 102.37,104.26 102.79,112.07 100.64,108.22" fill="#1bea55"/>
<polygon points="100.64,108.22 102.79,112.07 103.20,119.73 101.07,115.77" fill="#1ae94f"/>
<polygon points="101.07,115.77 103.20,119.73 103.61,127.25 101.49,123.18" fill="#26eece"/>
<polygon points="101.49,123.18 103.61,127.25 104.01,134.62 101.90,130.45" fill="#25eecb"/>
<polygon points="101.90,130.45 104.01,134.62 104.40,141.85 102.30,137.58" fill="#26eed0"/>
<polygon points="100.13,62.78 102.45,65.97 102.90,74.76 100.60,71.41" fill="#22e3f2"/>
<polygon points="100.60,71.41 102.90,74.76 103.34,83.37 101.05,79.87" fill="#21ee96"/>
<polygon points="101.05,79.87 103.34,83.37 103.78,91.79 101.50,88.16" fill="#20ed85"/>
<polygon points="101.50,88.16 103.78,91.79 104.20,100.05 101.94,96.29" fill="#1aea52"/>
<polygon points="101.94,96.29 104.20,100.05 104.62,108.14 102.37,104.26" fill="#1de841"/>
<polygon points="102.37,104.26 104.62,108.14 105.02,116.08 102.79,112.07" fill="#1fec7e"/>
<polygon points="102.79,112.07 105.02,116.08 105.42,123.85 103.20,119.73" fill="#22efa5"/>
<polygon points="103.20,119.73 105.42,123.85 105.81,131.48 103.61,127.25" fill="#20ed88"/>
<polygon points="103.61,127.25 105.81,131.48 106.20,138.95 104.01,134.62" fill="#1aea54"/>
<polygon points="104.01,134.62 106.20,138.95 106.58,146.29 104.40,141.85" fill="#25eecd"/>
<polygon points="102.45,65.97 104.87,69.31 105.31,78.25 102.90,74.76" fill="#19e949"/>
<polygon points="102.90,74.76 105.31,78.25 105.73,87.01 103.34,83.37" fill="#23efb5"/>
<polygon points="103.34,83.37 105.73,87.01 106.15,95.58 103.78,91.79" fill="#25eec9"/>
<polygon points="103.78,91.79 106.15,95.58 106.56,103.97 104.20,100.05" fill="#30e52f"/>
<polygon points="104.20,100.05 106.56,103.97 106.96,112.19 104.62,108.14" fill="#1eeb71"/>
<polygon points="104.62,108.14 106.96,112.19 107.35,120.25 105.02,116.08" fill="#1ae951"/>
<polygon points="105.02,116.08 107.35,120.25 107.73,128.14 105.42,123.85" fill="#1eeb75"/>
<polygon points="105.42,123.85 107.73,128.14 108.11,135.88 105.81,131.48" fill="#27ebe4"/>
<polygon points="105.81,131.48 108.11,135.88 108.48,143.46 106.20,138.95" fill="#34e52a"/>
<polygon points="106.20,138.95 108.48,143.46 108.84,150.90 106.58,146.29" fill="#1cea63"/>
<polygon points="104.87,69.31 107.40,72.80 107.82,81.90 105.31,78.25" fill="#23efb5"/>
<polygon points="105.31,78.25 107.82,81.90 108.23,90.81 105.73,87.01" fill="#23efb4"/>
<polygon points="105.73,87.01 108.23,90.81 108.63,99.53 106.15,95.58" fill="#26edd6"/>
<polygon points="106.15,95.58 108.63,99.53 109.02,108.06 106.56,103.97" fill="#1cdcf2"/>
<polygon points="106.56,103.97 109.02,108.06 109.40,116.42 106.96,112.19" fill="#23efb2"/>
<polygon points="106.96,112.19 109.40,116.42 109.77,124.60 107.35,120.25" fill="#1deb6a"/>
<polygon points="107.35,120.25 109.77,124.60 110.14,132.61 107.73,128.14" fill="#19e946"/>
<polygon points="107.73,128.14 110.14,132.61 110.50,140.46 108.11,135.88" fill="#19e94b"/>
<polygon points="108.11,135.88 110.50,140.46 110.85,148.16 108.48,143.46" fill="#23efaf"/>
<polygon points="108.48,143.46 110.85,148.16 111.20,155.70 108.84,150.90" fill="#1bea57"/>
<line x1="86.30" y1="43.70" x2="91.20" y2="115.00" stroke="#163a30" stroke-width="0.45"/>
<line x1="88.05" y1="46.12" x2="92.89" y2="118.44" stroke="#163a30" stroke-width="0.45"/>
<line x1="89.87" y1="48.63" x2="94.64" y2="122.00" stroke="#163a30" stroke-width="0.45"/>
<line x1="91.77" y1="51.24" x2="96.45" y2="125.69" stroke="#163a30" stroke-width="0.45"/>
<line x1="93.73" y1="53.95" x2="98.33" y2="129.51" stroke="#163a30" stroke-width="0.45"/>
<line x1="95.78" y1="56.77" x2="100.28" y2="133.47" stroke="#163a30" stroke-width="0.45"/>
<line x1="97.91" y1="59.71" x2="102.30" y2="137.58" stroke="#163a30" stroke-width="0.45"/>
<line x1="100.13" y1="62.78" x2="104.40" y2="141.85" stroke="#163a30" stroke-width="0.45"/>
<line x1="102.45" y1="65.97" x2="106.58" y2="146.29" stroke="#163a30" stroke-width="0.45"/>
<line x1="104.87" y1="69.31" x2="108.84" y2="150.90" stroke="#163a30" stroke-width="0.45"/>
<line x1="107.40" y1="72.80" x2="111.20" y2="155.70" stroke="#163a30" stroke-width="0.45"/>
<line x1="86.30" y1="43.70" x2="107.40" y2="72.80" stroke="#163a30" stroke-width="0.45"/>
<line x1="86.83" y1="51.40" x2="107.82" y2="81.90" stroke="#163a30" stroke-width="0.45"/>
<line x1="87.35" y1="58.97" x2="108.23" y2="90.81" stroke="#163a30" stroke-width="0.45"/>
<line x1="87.86" y1="66.40" x2="108.63" y2="99.53" stroke="#163a30" stroke-width="0.45"/>
<line x1="88.36" y1="73.71" x2="109.02" y2="108.06" stroke="#163a30" stroke-width="0.45"/>
<line x1="88.86" y1="80.88" x2="109.40" y2="116.42" stroke="#163a30" stroke-width="0.45"/>
<line x1="89.34" y1="87.94" x2="109.77" y2="124.60" stroke="#163a30" stroke-width="0.45"/>
<line x1="89.82" y1="94.88" x2="110.14" y2="132.61" stroke="#163a30" stroke-width="0.45"/>
<line x1="90.29" y1="101.70" x2="110.50" y2="140.46" stroke="#163a30" stroke-width="0.45"/>
<line x1="90.75" y1="108.40" x2="110.85" y2="148.16" stroke="#163a30" stroke-width="0.45"/>
<line x1="91.20" y1="115.00" x2="111.20" y2="155.70" stroke="#163a30" stroke-width="0.45"/>
</g>
<text x="153.80" y="164.20" font-size="4.6" font-family="Liberation Serif, serif" fill="#444" stroke="#444" stroke-width="0.12" textLength="16.70" lengthAdjust="spacingAndGlyphs">P32[1/m]</text>
<defs><linearGradient id="cb" x1="0" y1="0" x2="0" y2="1">
<stop offset="0" stop-color="#ff0000"/>
<stop offset="0.10" stop-color="#ff3800"/>
<stop offset="0.20" stop-color="#ff9a00"/>
<stop offset="0.27" stop-color="#ffff00"/>
<stop offset="0.36" stop-color="#a8ff00"/>
<stop offset="0.45" stop-color="#20ff00"/>
<stop offset="0.58" stop-color="#00ff40"/>
<stop offset="0.66" stop-color="#00ffa0"/>
<stop offset="0.73" stop-color="#00ffff"/>
<stop offset="0.80" stop-color="#00a8ff"/>
<stop offset="0.90" stop-color="#0050ff"/>
<stop offset="1" stop-color="#0000f0"/>
</linearGradient></defs>
<rect x="51.4" y="19.3" width="13.5" height="5.9" fill="#fff" stroke="#666" stroke-width="0.5"/>
<rect x="51.4" y="25.2" width="13.5" height="104.8" fill="url(#cb)"/>
<rect x="51.4" y="130" width="13.5" height="5.2" fill="#000"/>
<rect x="51.4" y="19.3" width="13.5" height="115.9" fill="none" stroke="#666" stroke-width="0.5"/>
<text x="66.00" y="21.30" font-size="3.2" fill="#555">P32 [1/m] &gt; 13</text>
<line x1="64.9" y1="25.70" x2="66" y2="25.70" stroke="#666" stroke-width="0.4"/>
<text x="67.00" y="26.90" font-size="3.3" fill="#555">13</text>
<line x1="64.9" y1="36.10" x2="66" y2="36.10" stroke="#666" stroke-width="0.4"/>
<text x="67.00" y="37.30" font-size="3.3" fill="#555">12</text>
<line x1="64.9" y1="46.50" x2="66" y2="46.50" stroke="#666" stroke-width="0.4"/>
<text x="67.00" y="47.70" font-size="3.3" fill="#555">11</text>
<line x1="64.9" y1="56.90" x2="66" y2="56.90" stroke="#666" stroke-width="0.4"/>
<text x="67.00" y="58.10" font-size="3.3" fill="#555">10</text>
<line x1="64.9" y1="67.30" x2="66" y2="67.30" stroke="#666" stroke-width="0.4"/>
<text x="67.00" y="68.50" font-size="3.3" fill="#555">9</text>
<line x1="64.9" y1="77.70" x2="66" y2="77.70" stroke="#666" stroke-width="0.4"/>
<text x="67.00" y="78.90" font-size="3.3" fill="#555">8</text>
<line x1="64.9" y1="88.10" x2="66" y2="88.10" stroke="#666" stroke-width="0.4"/>
<text x="67.00" y="89.30" font-size="3.3" fill="#555">7</text>
<line x1="64.9" y1="98.50" x2="66" y2="98.50" stroke="#666" stroke-width="0.4"/>
<text x="67.00" y="99.70" font-size="3.3" fill="#555">6</text>
<line x1="64.9" y1="108.90" x2="66" y2="108.90" stroke="#666" stroke-width="0.4"/>
<text x="67.00" y="110.10" font-size="3.3" fill="#555">5</text>
<line x1="64.9" y1="119.30" x2="66" y2="119.30" stroke="#666" stroke-width="0.4"/>
<text x="67.00" y="120.50" font-size="3.3" fill="#555">4</text>
<line x1="64.9" y1="129.70" x2="66" y2="129.70" stroke="#666" stroke-width="0.4"/>
<text x="67.00" y="130.90" font-size="3.3" fill="#555">3</text>
<text x="66.00" y="136.60" font-size="3.3" fill="#555">&lt; 3</text>
<line x1="61.4" y1="156.3" x2="61.0" y2="145.6" stroke="#777" stroke-width="0.7"/>
<line x1="61.4" y1="156.3" x2="72.5" y2="154.6" stroke="#777" stroke-width="0.7"/>
<polygon points="60.2,150.5 61.8,150.5 61.0,147.2" fill="#1010d0"/>
<rect x="59.8" y="150.6" width="1.6" height="1.8" fill="#118811"/>
<polygon points="70,153.8 73.4,154.6 70,155.6" fill="#dd1111"/>
<text x="63.60" y="150.30" font-size="2.8" fill="#666">(N)</text>
<text x="74.80" y="155.70" font-size="2.8" fill="#666">X (E)</text>
<g stroke="#d9d9d9" stroke-width="0.6">
<line x1="286.30" y1="23.30" x2="286.30" y2="170.30"/>
<line x1="286.30" y1="23.30" x2="433.30" y2="23.30"/>
<line x1="307.30" y1="23.30" x2="307.30" y2="170.30"/>
<line x1="286.30" y1="44.30" x2="433.30" y2="44.30"/>
<line x1="328.30" y1="23.30" x2="328.30" y2="170.30"/>
<line x1="286.30" y1="65.30" x2="433.30" y2="65.30"/>
<line x1="349.30" y1="23.30" x2="349.30" y2="170.30"/>
<line x1="286.30" y1="86.30" x2="433.30" y2="86.30"/>
<line x1="370.30" y1="23.30" x2="370.30" y2="170.30"/>
<line x1="286.30" y1="107.30" x2="433.30" y2="107.30"/>
<line x1="391.30" y1="23.30" x2="391.30" y2="170.30"/>
<line x1="286.30" y1="128.30" x2="433.30" y2="128.30"/>
<line x1="412.30" y1="23.30" x2="412.30" y2="170.30"/>
<line x1="286.30" y1="149.30" x2="433.30" y2="149.30"/>
<line x1="433.30" y1="23.30" x2="433.30" y2="170.30"/>
<line x1="286.30" y1="170.30" x2="433.30" y2="170.30"/>
</g>
<text x="286.60" y="23.70" font-size="4.3" font-family="Liberation Serif, serif" fill="#3a3a3a" stroke="#3a3a3a" stroke-width="0.12">70N</text>
<text x="286.60" y="44.70" font-size="4.3" font-family="Liberation Serif, serif" fill="#3a3a3a" stroke="#3a3a3a" stroke-width="0.12">50N</text>
<text x="286.60" y="65.70" font-size="4.3" font-family="Liberation Serif, serif" fill="#3a3a3a" stroke="#3a3a3a" stroke-width="0.12">30N</text>
<text x="286.60" y="86.70" font-size="4.3" font-family="Liberation Serif, serif" fill="#3a3a3a" stroke="#3a3a3a" stroke-width="0.12">10N</text>
<text x="286.60" y="107.70" font-size="4.3" font-family="Liberation Serif, serif" fill="#3a3a3a" stroke="#3a3a3a" stroke-width="0.12">-10N</text>
<text x="286.60" y="128.70" font-size="4.3" font-family="Liberation Serif, serif" fill="#3a3a3a" stroke="#3a3a3a" stroke-width="0.12">-30N</text>
<text x="286.60" y="149.70" font-size="4.3" font-family="Liberation Serif, serif" fill="#3a3a3a" stroke="#3a3a3a" stroke-width="0.12">-50N</text>
<text x="286.60" y="170.70" font-size="4.3" font-family="Liberation Serif, serif" fill="#3a3a3a" stroke="#3a3a3a" stroke-width="0.12">-70N</text>
<text x="285.10" y="169.40" font-size="4.4" font-family="Liberation Serif, serif" fill="#3a3a3a" stroke="#3a3a3a" stroke-width="0.12" transform="rotate(-90 285.10 169.40)">-70E</text>
<text x="306.10" y="169.40" font-size="4.4" font-family="Liberation Serif, serif" fill="#3a3a3a" stroke="#3a3a3a" stroke-width="0.12" transform="rotate(-90 306.10 169.40)">-50E</text>
<text x="327.10" y="169.40" font-size="4.4" font-family="Liberation Serif, serif" fill="#3a3a3a" stroke="#3a3a3a" stroke-width="0.12" transform="rotate(-90 327.10 169.40)">-30E</text>
<text x="348.10" y="169.40" font-size="4.4" font-family="Liberation Serif, serif" fill="#3a3a3a" stroke="#3a3a3a" stroke-width="0.12" transform="rotate(-90 348.10 169.40)">-10E</text>
<text x="369.10" y="169.40" font-size="4.4" font-family="Liberation Serif, serif" fill="#3a3a3a" stroke="#3a3a3a" stroke-width="0.12" transform="rotate(-90 369.10 169.40)">10E</text>
<text x="390.10" y="169.40" font-size="4.4" font-family="Liberation Serif, serif" fill="#3a3a3a" stroke="#3a3a3a" stroke-width="0.12" transform="rotate(-90 390.10 169.40)">30E</text>
<text x="411.10" y="169.40" font-size="4.4" font-family="Liberation Serif, serif" fill="#3a3a3a" stroke="#3a3a3a" stroke-width="0.12" transform="rotate(-90 411.10 169.40)">50E</text>
<text x="432.10" y="169.40" font-size="4.4" font-family="Liberation Serif, serif" fill="#3a3a3a" stroke="#3a3a3a" stroke-width="0.12" transform="rotate(-90 432.10 169.40)">70E</text>
<line x1="359.80" y1="49.2" x2="359.80" y2="144.2" stroke="#555" stroke-width="1.9"/>
<line x1="312.0" y1="96.80" x2="407.8" y2="96.80" stroke="#555" stroke-width="1.9"/>
<line x1="373.3" y1="83.5" x2="409.7" y2="47.9" stroke="#111" stroke-width="1.1"/>
<line x1="346.5" y1="110.1" x2="310.1" y2="145.7" stroke="#111" stroke-width="1.1"/>
<line x1="307.4" y1="44.5" x2="412.3" y2="149.4" stroke="#e8401a" stroke-width="1.25"/>
<line x1="364" y1="101" x2="412.3" y2="149.4" stroke="#3a1206" stroke-width="0.55" stroke-opacity="0.7"/>
<text x="359.00" y="47.80" font-size="4.8" font-weight="bold" fill="#111" text-anchor="middle" textLength="14.80" lengthAdjust="spacingAndGlyphs" stroke="#111" stroke-width="0.25">Well_7</text>
<text x="359.30" y="148.60" font-size="4.8" font-weight="bold" fill="#111" text-anchor="middle" textLength="15.50" lengthAdjust="spacingAndGlyphs" stroke="#111" stroke-width="0.25">Well_5</text>
<text x="359.00" y="95.00" font-size="4.8" font-weight="bold" fill="#111" text-anchor="middle" textLength="14.90" lengthAdjust="spacingAndGlyphs" stroke="#111" stroke-width="0.25">Well 2</text>
<text x="311.20" y="96.80" font-size="4.8" font-weight="bold" fill="#111" text-anchor="middle" textLength="15.50" lengthAdjust="spacingAndGlyphs" transform="rotate(-90 311.20 96.80)" stroke="#111" stroke-width="0.25">Well 3</text>
<text x="411.00" y="96.80" font-size="4.8" font-weight="bold" fill="#111" text-anchor="middle" textLength="15.50" lengthAdjust="spacingAndGlyphs" transform="rotate(-90 411.00 96.80)" stroke="#111" stroke-width="0.25">Well 9</text>
<text x="311.20" y="48.60" font-size="4.8" font-weight="bold" fill="#111" text-anchor="middle" textLength="15.50" lengthAdjust="spacingAndGlyphs" transform="rotate(-45 311.20 48.60)" stroke="#111" stroke-width="0.25">Well 6</text>
<text x="408.90" y="47.40" font-size="4.8" font-weight="bold" fill="#111" text-anchor="middle" textLength="15.00" lengthAdjust="spacingAndGlyphs" transform="rotate(45 408.90 47.40)" stroke="#111" stroke-width="0.25">Well 8</text>
<text x="309.60" y="146.60" font-size="4.8" font-weight="bold" fill="#111" text-anchor="middle" textLength="15.00" lengthAdjust="spacingAndGlyphs" transform="rotate(45 309.60 146.60)" stroke="#111" stroke-width="0.25">Well 4</text>
<text x="409.50" y="147.00" font-size="4.8" font-weight="bold" fill="#111" text-anchor="middle" textLength="17.00" lengthAdjust="spacingAndGlyphs" transform="rotate(-45 409.50 147.00)" stroke="#111" stroke-width="0.25">Well 10</text>
<line x1="288.5" y1="167.5" x2="288.5" y2="160" stroke="#22aa22" stroke-width="0.6"/>
<line x1="288.5" y1="167.5" x2="295" y2="167.5" stroke="#cc2222" stroke-width="0.6"/>
<line x1="288.5" y1="167.5" x2="291.5" y2="166" stroke="#2222cc" stroke-width="0.6"/>
<text x="282.40" y="180.00" font-size="6.3" fill="#333" textLength="147.90" lengthAdjust="spacingAndGlyphs" xml:space="preserve">Cros Section Location  Presented in Colour Red</text>
<text x="453.20" y="28.90" font-size="6.7" font-weight="bold" fill="#1a1a1a" textLength="46.60" lengthAdjust="spacingAndGlyphs" stroke="#1a1a1a" stroke-width="0.18">Actual P32 m</text>
<text x="500.30" y="26.20" font-size="4.2" font-weight="bold" fill="#1a1a1a" textLength="3.60" lengthAdjust="spacingAndGlyphs">-1</text>
<text x="505.80" y="28.90" font-size="6.7" font-weight="bold" fill="#1a1a1a" textLength="22.80" lengthAdjust="spacingAndGlyphs" stroke="#1a1a1a" stroke-width="0.18">In Cells</text>
<line x1="462.2" y1="36" x2="462.2" y2="141" stroke="#888" stroke-width="0.5"/>
<line x1="462.2" y1="41.10" x2="468" y2="41.10" stroke="#888" stroke-width="0.5"/>
<rect x="468.4" y="36.10" width="10" height="9.8" fill="#0a0af5" stroke="#6a5acd" stroke-width="0.7"/>
<text x="481.20" y="44.00" font-size="7.2" fill="#2e2e2e" textLength="37.80" lengthAdjust="spacingAndGlyphs">3.00 -&gt; 4.00</text>
<line x1="462.2" y1="52.27" x2="468" y2="52.27" stroke="#888" stroke-width="0.5"/>
<rect x="468.4" y="47.27" width="10" height="9.8" fill="#1e6cff" stroke="#6a5acd" stroke-width="0.7"/>
<text x="481.20" y="55.17" font-size="7.2" fill="#2e2e2e" textLength="37.80" lengthAdjust="spacingAndGlyphs">4.00 -&gt; 5.00</text>
<line x1="462.2" y1="63.44" x2="468" y2="63.44" stroke="#888" stroke-width="0.5"/>
<rect x="468.4" y="58.44" width="10" height="9.8" fill="#10e4ff" stroke="#6a5acd" stroke-width="0.7"/>
<text x="481.20" y="66.34" font-size="7.2" fill="#2e2e2e" textLength="37.80" lengthAdjust="spacingAndGlyphs">5.00 -&gt; 6.00</text>
<line x1="462.2" y1="74.61" x2="468" y2="74.61" stroke="#888" stroke-width="0.5"/>
<rect x="468.4" y="69.61" width="10" height="9.8" fill="#22f0b4" stroke="#6a5acd" stroke-width="0.7"/>
<text x="481.20" y="77.51" font-size="7.2" fill="#2e2e2e" textLength="37.80" lengthAdjust="spacingAndGlyphs">6.00 -&gt; 7.00</text>
<line x1="462.2" y1="85.78" x2="468" y2="85.78" stroke="#888" stroke-width="0.5"/>
<rect x="468.4" y="80.78" width="10" height="9.8" fill="#10f050" stroke="#6a5acd" stroke-width="0.7"/>
<text x="481.20" y="88.68" font-size="7.2" fill="#2e2e2e" textLength="37.80" lengthAdjust="spacingAndGlyphs">7.00 -&gt; 8.00</text>
<line x1="462.2" y1="96.95" x2="468" y2="96.95" stroke="#888" stroke-width="0.5"/>
<rect x="468.4" y="91.95" width="10" height="9.8" fill="#34ee2c" stroke="#6a5acd" stroke-width="0.7"/>
<text x="481.20" y="99.85" font-size="7.2" fill="#2e2e2e" textLength="37.80" lengthAdjust="spacingAndGlyphs">8.00 -&gt; 9.00</text>
<line x1="462.2" y1="108.12" x2="468" y2="108.12" stroke="#888" stroke-width="0.5"/>
<rect x="468.4" y="103.12" width="10" height="9.8" fill="#a4f020" stroke="#6a5acd" stroke-width="0.7"/>
<text x="481.20" y="111.02" font-size="7.2" fill="#2e2e2e" textLength="41.40" lengthAdjust="spacingAndGlyphs">9.00 -&gt; 10.00</text>
<line x1="462.2" y1="119.29" x2="468" y2="119.29" stroke="#888" stroke-width="0.5"/>
<rect x="468.4" y="114.29" width="10" height="9.8" fill="#ffd800" stroke="#6a5acd" stroke-width="0.7"/>
<text x="481.20" y="122.19" font-size="7.2" fill="#2e2e2e" textLength="45.50" lengthAdjust="spacingAndGlyphs">10.00 -&gt; 11.00</text>
<line x1="462.2" y1="130.46" x2="468" y2="130.46" stroke="#888" stroke-width="0.5"/>
<rect x="468.4" y="125.46" width="10" height="9.8" fill="#ff6a00" stroke="#6a5acd" stroke-width="0.7"/>
<text x="481.20" y="133.36" font-size="7.2" fill="#2e2e2e" textLength="45.50" lengthAdjust="spacingAndGlyphs">11.00 -&gt; 12.00</text>
<line x1="462.2" y1="141.63" x2="468" y2="141.63" stroke="#888" stroke-width="0.5"/>
<rect x="468.4" y="136.63" width="10" height="9.8" fill="#ff0a1e" stroke="#6a5acd" stroke-width="0.7"/>
<text x="481.20" y="144.53" font-size="7.2" fill="#2e2e2e" textLength="45.50" lengthAdjust="spacingAndGlyphs">12.00 -&gt; 13.00</text>
<rect x="32.70" y="198.80" width="20.33" height="14.45" fill="#06e0ff"/>
<rect x="52.98" y="198.80" width="20.33" height="14.45" fill="#06fbaa"/>
<rect x="73.26" y="198.80" width="20.33" height="14.45" fill="#06fbaa"/>
<rect x="93.54" y="198.80" width="20.33" height="14.45" fill="#06fbaa"/>
<rect x="113.82" y="198.80" width="20.33" height="14.45" fill="#06fbaa"/>
<rect x="134.10" y="198.80" width="20.33" height="14.45" fill="#06fbaa"/>
<rect x="154.38" y="198.80" width="20.33" height="14.45" fill="#06e0ff"/>
<rect x="174.66" y="198.80" width="20.33" height="14.45" fill="#06e0ff"/>
<rect x="194.94" y="198.80" width="20.33" height="14.45" fill="#06fbaa"/>
<rect x="215.22" y="198.80" width="20.33" height="14.45" fill="#06e0ff"/>
<rect x="32.70" y="213.20" width="20.33" height="14.45" fill="#06fbaa"/>
<rect x="52.98" y="213.20" width="20.33" height="14.45" fill="#06fbaa"/>
<rect x="73.26" y="213.20" width="20.33" height="14.45" fill="#04fa38"/>
<rect x="93.54" y="213.20" width="20.33" height="14.45" fill="#06e0ff"/>
<rect x="113.82" y="213.20" width="20.33" height="14.45" fill="#06e0ff"/>
<rect x="134.10" y="213.20" width="20.33" height="14.45" fill="#04fa38"/>
<rect x="154.38" y="213.20" width="20.33" height="14.45" fill="#06e0ff"/>
<rect x="174.66" y="213.20" width="20.33" height="14.45" fill="#06fbaa"/>
<rect x="194.94" y="213.20" width="20.33" height="14.45" fill="#06e0ff"/>
<rect x="215.22" y="213.20" width="20.33" height="14.45" fill="#06e0ff"/>
<rect x="32.70" y="227.60" width="20.33" height="14.45" fill="#06fbaa"/>
<rect x="52.98" y="227.60" width="20.33" height="14.45" fill="#06fbaa"/>
<rect x="73.26" y="227.60" width="20.33" height="14.45" fill="#06fbaa"/>
<rect x="93.54" y="227.60" width="20.33" height="14.45" fill="#06e0ff"/>
<rect x="113.82" y="227.60" width="20.33" height="14.45" fill="#04fa38"/>
<rect x="134.10" y="227.60" width="20.33" height="14.45" fill="#06fbaa"/>
<rect x="154.38" y="227.60" width="20.33" height="14.45" fill="#06fbaa"/>
<rect x="174.66" y="227.60" width="20.33" height="14.45" fill="#06fbaa"/>
<rect x="194.94" y="227.60" width="20.33" height="14.45" fill="#06e0ff"/>
<rect x="215.22" y="227.60" width="20.33" height="14.45" fill="#06e0ff"/>
<rect x="32.70" y="242.00" width="20.33" height="14.45" fill="#06e0ff"/>
<rect x="52.98" y="242.00" width="20.33" height="14.45" fill="#06e0ff"/>
<rect x="73.26" y="242.00" width="20.33" height="14.45" fill="#06e0ff"/>
<rect x="93.54" y="242.00" width="20.33" height="14.45" fill="#06fbaa"/>
<rect x="113.82" y="242.00" width="20.33" height="14.45" fill="#06fbaa"/>
<rect x="134.10" y="242.00" width="20.33" height="14.45" fill="#06e0ff"/>
<rect x="154.38" y="242.00" width="20.33" height="14.45" fill="#04fa38"/>
<rect x="174.66" y="242.00" width="20.33" height="14.45" fill="#06fbaa"/>
<rect x="194.94" y="242.00" width="20.33" height="14.45" fill="#06fbaa"/>
<rect x="215.22" y="242.00" width="20.33" height="14.45" fill="#06fbaa"/>
<rect x="32.70" y="256.40" width="20.33" height="14.45" fill="#06fbaa"/>
<rect x="52.98" y="256.40" width="20.33" height="14.45" fill="#06fbaa"/>
<rect x="73.26" y="256.40" width="20.33" height="14.45" fill="#06fbaa"/>
<rect x="93.54" y="256.40" width="20.33" height="14.45" fill="#06e0ff"/>
<rect x="113.82" y="256.40" width="20.33" height="14.45" fill="#06e0ff"/>
<rect x="134.10" y="256.40" width="20.33" height="14.45" fill="#06fbaa"/>
<rect x="154.38" y="256.40" width="20.33" height="14.45" fill="#06fbaa"/>
<rect x="174.66" y="256.40" width="20.33" height="14.45" fill="#04fa38"/>
<rect x="194.94" y="256.40" width="20.33" height="14.45" fill="#04fa38"/>
<rect x="215.22" y="256.40" width="20.33" height="14.45" fill="#06e0ff"/>
<rect x="32.70" y="270.80" width="20.33" height="14.45" fill="#06e0ff"/>
<rect x="52.98" y="270.80" width="20.33" height="14.45" fill="#06e0ff"/>
<rect x="73.26" y="270.80" width="20.33" height="14.45" fill="#06fbaa"/>
<rect x="93.54" y="270.80" width="20.33" height="14.45" fill="#06e0ff"/>
<rect x="113.82" y="270.80" width="20.33" height="14.45" fill="#06e0ff"/>
<rect x="134.10" y="270.80" width="20.33" height="14.45" fill="#06e0ff"/>
<rect x="154.38" y="270.80" width="20.33" height="14.45" fill="#06e0ff"/>
<rect x="174.66" y="270.80" width="20.33" height="14.45" fill="#06fbaa"/>
<rect x="194.94" y="270.80" width="20.33" height="14.45" fill="#06fbaa"/>
<rect x="215.22" y="270.80" width="20.33" height="14.45" fill="#06e0ff"/>
<rect x="32.70" y="285.20" width="20.33" height="14.45" fill="#06fbaa"/>
<rect x="52.98" y="285.20" width="20.33" height="14.45" fill="#06e0ff"/>
<rect x="73.26" y="285.20" width="20.33" height="14.45" fill="#06fbaa"/>
<rect x="93.54" y="285.20" width="20.33" height="14.45" fill="#06e0ff"/>
<rect x="113.82" y="285.20" width="20.33" height="14.45" fill="#06fbaa"/>
<rect x="134.10" y="285.20" width="20.33" height="14.45" fill="#06fbaa"/>
<rect x="154.38" y="285.20" width="20.33" height="14.45" fill="#06e0ff"/>
<rect x="174.66" y="285.20" width="20.33" height="14.45" fill="#06fbaa"/>
<rect x="194.94" y="285.20" width="20.33" height="14.45" fill="#06e0ff"/>
<rect x="215.22" y="285.20" width="20.33" height="14.45" fill="#06e0ff"/>
<rect x="32.70" y="299.60" width="20.33" height="14.45" fill="#06e0ff"/>
<rect x="52.98" y="299.60" width="20.33" height="14.45" fill="#06fbaa"/>
<rect x="73.26" y="299.60" width="20.33" height="14.45" fill="#06e0ff"/>
<rect x="93.54" y="299.60" width="20.33" height="14.45" fill="#06fbaa"/>
<rect x="113.82" y="299.60" width="20.33" height="14.45" fill="#06fbaa"/>
<rect x="134.10" y="299.60" width="20.33" height="14.45" fill="#06fbaa"/>
<rect x="154.38" y="299.60" width="20.33" height="14.45" fill="#06e0ff"/>
<rect x="174.66" y="299.60" width="20.33" height="14.45" fill="#06fbaa"/>
<rect x="194.94" y="299.60" width="20.33" height="14.45" fill="#06e0ff"/>
<rect x="215.22" y="299.60" width="20.33" height="14.45" fill="#06e0ff"/>
<rect x="32.70" y="314.00" width="20.33" height="14.45" fill="#06e0ff"/>
<rect x="52.98" y="314.00" width="20.33" height="14.45" fill="#06fbaa"/>
<rect x="73.26" y="314.00" width="20.33" height="14.45" fill="#04fa38"/>
<rect x="93.54" y="314.00" width="20.33" height="14.45" fill="#06fbaa"/>
<rect x="113.82" y="314.00" width="20.33" height="14.45" fill="#06fbaa"/>
<rect x="134.10" y="314.00" width="20.33" height="14.45" fill="#06e0ff"/>
<rect x="154.38" y="314.00" width="20.33" height="14.45" fill="#06fbaa"/>
<rect x="174.66" y="314.00" width="20.33" height="14.45" fill="#06e0ff"/>
<rect x="194.94" y="314.00" width="20.33" height="14.45" fill="#06fbaa"/>
<rect x="215.22" y="314.00" width="20.33" height="14.45" fill="#04fa38"/>
<rect x="32.70" y="328.40" width="20.33" height="14.45" fill="#06e0ff"/>
<rect x="52.98" y="328.40" width="20.33" height="14.45" fill="#06fbaa"/>
<rect x="73.26" y="328.40" width="20.33" height="14.45" fill="#04fa38"/>
<rect x="93.54" y="328.40" width="20.33" height="14.45" fill="#06fbaa"/>
<rect x="113.82" y="328.40" width="20.33" height="14.45" fill="#06e0ff"/>
<rect x="134.10" y="328.40" width="20.33" height="14.45" fill="#06e0ff"/>
<rect x="154.38" y="328.40" width="20.33" height="14.45" fill="#06e0ff"/>
<rect x="174.66" y="328.40" width="20.33" height="14.45" fill="#06fbaa"/>
<rect x="194.94" y="328.40" width="20.33" height="14.45" fill="#06fbaa"/>
<rect x="215.22" y="328.40" width="20.33" height="14.45" fill="#06fbaa"/>
<g stroke="#4a8c9c" stroke-opacity="0.55" stroke-width="0.6">
<line x1="32.70" y1="198.80" x2="32.70" y2="342.80"/>
<line x1="42.84" y1="198.80" x2="42.84" y2="342.80"/>
<line x1="52.98" y1="198.80" x2="52.98" y2="342.80"/>
<line x1="63.12" y1="198.80" x2="63.12" y2="342.80"/>
<line x1="73.26" y1="198.80" x2="73.26" y2="342.80"/>
<line x1="83.40" y1="198.80" x2="83.40" y2="342.80"/>
<line x1="93.54" y1="198.80" x2="93.54" y2="342.80"/>
<line x1="103.68" y1="198.80" x2="103.68" y2="342.80"/>
<line x1="113.82" y1="198.80" x2="113.82" y2="342.80"/>
<line x1="123.96" y1="198.80" x2="123.96" y2="342.80"/>
<line x1="134.10" y1="198.80" x2="134.10" y2="342.80"/>
<line x1="144.24" y1="198.80" x2="144.24" y2="342.80"/>
<line x1="154.38" y1="198.80" x2="154.38" y2="342.80"/>
<line x1="164.52" y1="198.80" x2="164.52" y2="342.80"/>
<line x1="174.66" y1="198.80" x2="174.66" y2="342.80"/>
<line x1="184.80" y1="198.80" x2="184.80" y2="342.80"/>
<line x1="194.94" y1="198.80" x2="194.94" y2="342.80"/>
<line x1="205.08" y1="198.80" x2="205.08" y2="342.80"/>
<line x1="215.22" y1="198.80" x2="215.22" y2="342.80"/>
<line x1="225.36" y1="198.80" x2="225.36" y2="342.80"/>
<line x1="235.50" y1="198.80" x2="235.50" y2="342.80"/>
<line x1="32.70" y1="198.80" x2="235.50" y2="198.80"/>
<line x1="32.70" y1="213.20" x2="235.50" y2="213.20"/>
<line x1="32.70" y1="227.60" x2="235.50" y2="227.60"/>
<line x1="32.70" y1="242.00" x2="235.50" y2="242.00"/>
<line x1="32.70" y1="256.40" x2="235.50" y2="256.40"/>
<line x1="32.70" y1="270.80" x2="235.50" y2="270.80"/>
<line x1="32.70" y1="285.20" x2="235.50" y2="285.20"/>
<line x1="32.70" y1="299.60" x2="235.50" y2="299.60"/>
<line x1="32.70" y1="314.00" x2="235.50" y2="314.00"/>
<line x1="32.70" y1="328.40" x2="235.50" y2="328.40"/>
<line x1="32.70" y1="342.80" x2="235.50" y2="342.80"/>
</g>
<g stroke="#e2e2e2" stroke-width="0.5">
<line x1="32.70" y1="342.80" x2="32.70" y2="357.3"/>
<line x1="42.84" y1="342.80" x2="42.84" y2="357.3"/>
<line x1="52.98" y1="342.80" x2="52.98" y2="357.3"/>
<line x1="63.12" y1="342.80" x2="63.12" y2="357.3"/>
<line x1="73.26" y1="342.80" x2="73.26" y2="357.3"/>
<line x1="83.40" y1="342.80" x2="83.40" y2="357.3"/>
<line x1="93.54" y1="342.80" x2="93.54" y2="357.3"/>
<line x1="103.68" y1="342.80" x2="103.68" y2="357.3"/>
<line x1="113.82" y1="342.80" x2="113.82" y2="357.3"/>
<line x1="123.96" y1="342.80" x2="123.96" y2="357.3"/>
<line x1="134.10" y1="342.80" x2="134.10" y2="357.3"/>
<line x1="144.24" y1="342.80" x2="144.24" y2="357.3"/>
<line x1="154.38" y1="342.80" x2="154.38" y2="357.3"/>
<line x1="164.52" y1="342.80" x2="164.52" y2="357.3"/>
<line x1="174.66" y1="342.80" x2="174.66" y2="357.3"/>
<line x1="184.80" y1="342.80" x2="184.80" y2="357.3"/>
<line x1="194.94" y1="342.80" x2="194.94" y2="357.3"/>
<line x1="205.08" y1="342.80" x2="205.08" y2="357.3"/>
<line x1="215.22" y1="342.80" x2="215.22" y2="357.3"/>
<line x1="225.36" y1="342.80" x2="225.36" y2="357.3"/>
<line x1="235.50" y1="342.80" x2="235.50" y2="357.3"/>
<line x1="32.70" y1="357.3" x2="235.50" y2="357.3"/>
</g>
<text x="30.70" y="356.60" font-size="4.8" font-family="Liberation Serif, serif" fill="#3c3c3c" stroke="#3c3c3c" stroke-width="0.12" transform="rotate(-90 30.70 356.60)">40N</text>
<text x="40.84" y="356.60" font-size="4.8" font-family="Liberation Serif, serif" fill="#3c3c3c" stroke="#3c3c3c" stroke-width="0.12" transform="rotate(-90 40.84 356.60)">30N</text>
<text x="50.98" y="356.60" font-size="4.8" font-family="Liberation Serif, serif" fill="#3c3c3c" stroke="#3c3c3c" stroke-width="0.12" transform="rotate(-90 50.98 356.60)">20N</text>
<text x="61.12" y="356.60" font-size="4.8" font-family="Liberation Serif, serif" fill="#3c3c3c" stroke="#3c3c3c" stroke-width="0.12" transform="rotate(-90 61.12 356.60)">10N</text>
<text x="71.26" y="356.60" font-size="4.8" font-family="Liberation Serif, serif" fill="#3c3c3c" stroke="#3c3c3c" stroke-width="0.12" transform="rotate(-90 71.26 356.60)">0N</text>
<text x="81.40" y="356.60" font-size="4.8" font-family="Liberation Serif, serif" fill="#3c3c3c" stroke="#3c3c3c" stroke-width="0.12" transform="rotate(-90 81.40 356.60)">-10N</text>
<text x="91.54" y="356.60" font-size="4.8" font-family="Liberation Serif, serif" fill="#3c3c3c" stroke="#3c3c3c" stroke-width="0.12" transform="rotate(-90 91.54 356.60)">-20N</text>
<text x="101.68" y="356.60" font-size="4.8" font-family="Liberation Serif, serif" fill="#3c3c3c" stroke="#3c3c3c" stroke-width="0.12" transform="rotate(-90 101.68 356.60)">-30N</text>
<text x="111.82" y="356.60" font-size="4.8" font-family="Liberation Serif, serif" fill="#3c3c3c" stroke="#3c3c3c" stroke-width="0.12" transform="rotate(-90 111.82 356.60)">-40N</text>
<text x="121.96" y="356.60" font-size="4.8" font-family="Liberation Serif, serif" fill="#3c3c3c" stroke="#3c3c3c" stroke-width="0.12" transform="rotate(-90 121.96 356.60)">-50N</text>
<text x="132.10" y="356.60" font-size="4.8" font-family="Liberation Serif, serif" fill="#3c3c3c" stroke="#3c3c3c" stroke-width="0.12" transform="rotate(-90 132.10 356.60)">-60N</text>
<text x="142.24" y="356.60" font-size="4.8" font-family="Liberation Serif, serif" fill="#3c3c3c" stroke="#3c3c3c" stroke-width="0.12" transform="rotate(-90 142.24 356.60)">-70N</text>
<text x="152.38" y="356.60" font-size="4.8" font-family="Liberation Serif, serif" fill="#3c3c3c" stroke="#3c3c3c" stroke-width="0.12" transform="rotate(-90 152.38 356.60)">-80N</text>
<text x="162.52" y="356.60" font-size="4.8" font-family="Liberation Serif, serif" fill="#3c3c3c" stroke="#3c3c3c" stroke-width="0.12" transform="rotate(-90 162.52 356.60)">-90N</text>
<text x="172.66" y="356.60" font-size="4.8" font-family="Liberation Serif, serif" fill="#3c3c3c" stroke="#3c3c3c" stroke-width="0.12" transform="rotate(-90 172.66 356.60)">-100N</text>
<text x="182.80" y="356.60" font-size="4.8" font-family="Liberation Serif, serif" fill="#3c3c3c" stroke="#3c3c3c" stroke-width="0.12" transform="rotate(-90 182.80 356.60)">-110N</text>
<text x="192.94" y="356.60" font-size="4.8" font-family="Liberation Serif, serif" fill="#3c3c3c" stroke="#3c3c3c" stroke-width="0.12" transform="rotate(-90 192.94 356.60)">-120N</text>
<text x="203.08" y="356.60" font-size="4.8" font-family="Liberation Serif, serif" fill="#3c3c3c" stroke="#3c3c3c" stroke-width="0.12" transform="rotate(-90 203.08 356.60)">-130N</text>
<text x="213.22" y="356.60" font-size="4.8" font-family="Liberation Serif, serif" fill="#3c3c3c" stroke="#3c3c3c" stroke-width="0.12" transform="rotate(-90 213.22 356.60)">-140N</text>
<text x="223.36" y="356.60" font-size="4.8" font-family="Liberation Serif, serif" fill="#3c3c3c" stroke="#3c3c3c" stroke-width="0.12" transform="rotate(-90 223.36 356.60)">-150N</text>
<text x="233.50" y="356.60" font-size="4.8" font-family="Liberation Serif, serif" fill="#3c3c3c" stroke="#3c3c3c" stroke-width="0.12" transform="rotate(-90 233.50 356.60)">-160N</text>
<text x="234.90" y="198.60" font-size="4.9" font-family="Liberation Serif, serif" fill="#3a3a3a" stroke="#3a3a3a" stroke-width="0.12">50Z</text>
<text x="234.90" y="213.00" font-size="4.9" font-family="Liberation Serif, serif" fill="#3a3a3a" stroke="#3a3a3a" stroke-width="0.12">40Z</text>
<text x="234.90" y="227.40" font-size="4.9" font-family="Liberation Serif, serif" fill="#3a3a3a" stroke="#3a3a3a" stroke-width="0.12">30Z</text>
<text x="234.90" y="241.80" font-size="4.9" font-family="Liberation Serif, serif" fill="#3a3a3a" stroke="#3a3a3a" stroke-width="0.12">20Z</text>
<text x="234.90" y="256.20" font-size="4.9" font-family="Liberation Serif, serif" fill="#3a3a3a" stroke="#3a3a3a" stroke-width="0.12">10Z</text>
<text x="234.90" y="270.60" font-size="4.9" font-family="Liberation Serif, serif" fill="#3a3a3a" stroke="#3a3a3a" stroke-width="0.12">0Z</text>
<text x="234.90" y="285.00" font-size="4.9" font-family="Liberation Serif, serif" fill="#3a3a3a" stroke="#3a3a3a" stroke-width="0.12">-10Z</text>
<text x="234.90" y="299.40" font-size="4.9" font-family="Liberation Serif, serif" fill="#3a3a3a" stroke="#3a3a3a" stroke-width="0.12">-20Z</text>
<text x="234.90" y="313.80" font-size="4.9" font-family="Liberation Serif, serif" fill="#3a3a3a" stroke="#3a3a3a" stroke-width="0.12">-30Z</text>
<text x="234.90" y="328.20" font-size="4.9" font-family="Liberation Serif, serif" fill="#3a3a3a" stroke="#3a3a3a" stroke-width="0.12">-40Z</text>
<text x="234.90" y="342.60" font-size="4.9" font-family="Liberation Serif, serif" fill="#3a3a3a" stroke="#3a3a3a" stroke-width="0.12">-50Z</text>
<text x="234.90" y="357.00" font-size="4.9" font-family="Liberation Serif, serif" fill="#3a3a3a" stroke="#3a3a3a" stroke-width="0.12">-60Z</text>
<line x1="42.80" y1="207.20" x2="106.20" y2="319.10" stroke="#333" stroke-width="4.40"/>
<line x1="42.80" y1="207.20" x2="44.27" y2="209.80" stroke="#bfe9e6" stroke-width="3.20"/>
<line x1="44.27" y1="209.80" x2="46.65" y2="214.00" stroke="#1f7cff" stroke-width="3.20"/>
<line x1="46.65" y1="214.00" x2="48.47" y2="217.20" stroke="#44e040" stroke-width="3.20"/>
<line x1="48.47" y1="217.20" x2="50.34" y2="220.50" stroke="#06e0ff" stroke-width="3.20"/>
<line x1="50.34" y1="220.50" x2="55.04" y2="228.80" stroke="#a6f01e" stroke-width="3.20"/>
<line x1="55.04" y1="228.80" x2="57.42" y2="233.00" stroke="#06fbaa" stroke-width="3.20"/>
<line x1="57.42" y1="233.00" x2="59.23" y2="236.20" stroke="#1f7cff" stroke-width="3.20"/>
<line x1="59.23" y1="236.20" x2="64.78" y2="246.00" stroke="#06fbaa" stroke-width="3.20"/>
<line x1="64.78" y1="246.00" x2="68.47" y2="252.50" stroke="#0a2cf0" stroke-width="3.20"/>
<line x1="68.47" y1="252.50" x2="73.62" y2="261.60" stroke="#1f7cff" stroke-width="3.20"/>
<line x1="73.62" y1="261.60" x2="75.94" y2="265.70" stroke="#5af0c8" stroke-width="3.20"/>
<line x1="75.94" y1="265.70" x2="80.14" y2="273.10" stroke="#30e040" stroke-width="3.20"/>
<line x1="80.14" y1="273.10" x2="83.93" y2="279.80" stroke="#1f7cff" stroke-width="3.20"/>
<line x1="83.93" y1="279.80" x2="87.16" y2="285.50" stroke="#06e0ff" stroke-width="3.20"/>
<line x1="87.16" y1="285.50" x2="90.00" y2="290.50" stroke="#0a2cf0" stroke-width="3.20"/>
<line x1="90.00" y1="290.50" x2="91.70" y2="293.50" stroke="#ffffff" stroke-width="3.20"/>
<line x1="91.70" y1="293.50" x2="93.51" y2="296.70" stroke="#0a2cf0" stroke-width="3.20"/>
<line x1="93.51" y1="296.70" x2="95.38" y2="300.00" stroke="#30e030" stroke-width="3.20"/>
<line x1="95.38" y1="300.00" x2="102.18" y2="312.00" stroke="#1f7cff" stroke-width="3.20"/>
<line x1="102.18" y1="312.00" x2="106.20" y2="319.10" stroke="#44e040" stroke-width="3.20"/>
<line x1="224.80" y1="206.50" x2="159.80" y2="316.80" stroke="#333" stroke-width="4.40"/>
<line x1="224.80" y1="206.50" x2="223.33" y2="209.00" stroke="#bfe9e6" stroke-width="3.20"/>
<line x1="223.33" y1="209.00" x2="219.79" y2="215.00" stroke="#1f7cff" stroke-width="3.20"/>
<line x1="219.79" y1="215.00" x2="216.49" y2="220.60" stroke="#0a2cf0" stroke-width="3.20"/>
<line x1="216.49" y1="220.60" x2="214.49" y2="224.00" stroke="#06e0ff" stroke-width="3.20"/>
<line x1="214.49" y1="224.00" x2="211.72" y2="228.70" stroke="#1f7cff" stroke-width="3.20"/>
<line x1="211.72" y1="228.70" x2="207.53" y2="235.80" stroke="#20e040" stroke-width="3.20"/>
<line x1="207.53" y1="235.80" x2="204.88" y2="240.30" stroke="#1f7cff" stroke-width="3.20"/>
<line x1="204.88" y1="240.30" x2="203.29" y2="243.00" stroke="#06e0ff" stroke-width="3.20"/>
<line x1="203.29" y1="243.00" x2="201.17" y2="246.60" stroke="#ffffff" stroke-width="3.20"/>
<line x1="201.17" y1="246.60" x2="199.17" y2="250.00" stroke="#06e0ff" stroke-width="3.20"/>
<line x1="199.17" y1="250.00" x2="196.98" y2="253.70" stroke="#a6f01e" stroke-width="3.20"/>
<line x1="196.98" y1="253.70" x2="193.04" y2="260.40" stroke="#1f7cff" stroke-width="3.20"/>
<line x1="193.04" y1="260.40" x2="185.61" y2="273.00" stroke="#06e0ff" stroke-width="3.20"/>
<line x1="185.61" y1="273.00" x2="182.08" y2="279.00" stroke="#20e040" stroke-width="3.20"/>
<line x1="182.08" y1="279.00" x2="179.31" y2="283.70" stroke="#0a2cf0" stroke-width="3.20"/>
<line x1="179.31" y1="283.70" x2="175.12" y2="290.80" stroke="#06e0ff" stroke-width="3.20"/>
<line x1="175.12" y1="290.80" x2="172.47" y2="295.30" stroke="#ffffff" stroke-width="3.20"/>
<line x1="172.47" y1="295.30" x2="169.70" y2="300.00" stroke="#1f7cff" stroke-width="3.20"/>
<line x1="169.70" y1="300.00" x2="167.17" y2="304.30" stroke="#0a2cf0" stroke-width="3.20"/>
<line x1="167.17" y1="304.30" x2="165.58" y2="307.00" stroke="#06e0ff" stroke-width="3.20"/>
<line x1="165.58" y1="307.00" x2="163.98" y2="309.70" stroke="#0a2cf0" stroke-width="3.20"/>
<line x1="163.98" y1="309.70" x2="161.45" y2="314.00" stroke="#ffffff" stroke-width="3.20"/>
<line x1="161.45" y1="314.00" x2="159.80" y2="316.80" stroke="#44e040" stroke-width="3.20"/>
<line x1="132.60" y1="205.00" x2="132.60" y2="342.80" stroke="#333" stroke-width="4.00"/>
<line x1="132.60" y1="205.00" x2="132.60" y2="210.00" stroke="#0a2cf0" stroke-width="2.80"/>
<line x1="132.60" y1="210.00" x2="132.60" y2="218.60" stroke="#06e0ff" stroke-width="2.80"/>
<line x1="132.60" y1="218.60" x2="132.60" y2="223.80" stroke="#ffffff" stroke-width="2.80"/>
<line x1="132.60" y1="223.80" x2="132.60" y2="231.00" stroke="#06e0ff" stroke-width="2.80"/>
<line x1="132.60" y1="231.00" x2="132.60" y2="233.00" stroke="#0a2cf0" stroke-width="2.80"/>
<line x1="132.60" y1="233.00" x2="132.60" y2="248.50" stroke="#06e0ff" stroke-width="2.80"/>
<line x1="132.60" y1="248.50" x2="132.60" y2="252.70" stroke="#a6f01e" stroke-width="2.80"/>
<line x1="132.60" y1="252.70" x2="132.60" y2="255.80" stroke="#0a2cf0" stroke-width="2.80"/>
<line x1="132.60" y1="255.80" x2="132.60" y2="266.00" stroke="#1f7cff" stroke-width="2.80"/>
<line x1="132.60" y1="266.00" x2="132.60" y2="272.00" stroke="#0a2cf0" stroke-width="2.80"/>
<line x1="132.60" y1="272.00" x2="132.60" y2="279.40" stroke="#06e0ff" stroke-width="2.80"/>
<line x1="132.60" y1="279.40" x2="132.60" y2="283.50" stroke="#0a2cf0" stroke-width="2.80"/>
<line x1="132.60" y1="283.50" x2="132.60" y2="290.70" stroke="#06e0ff" stroke-width="2.80"/>
<line x1="132.60" y1="290.70" x2="132.60" y2="291.50" stroke="#06fbaa" stroke-width="2.80"/>
<line x1="132.60" y1="291.50" x2="132.60" y2="294.80" stroke="#30e030" stroke-width="2.80"/>
<line x1="132.60" y1="294.80" x2="132.60" y2="300.60" stroke="#1f7cff" stroke-width="2.80"/>
<line x1="132.60" y1="300.60" x2="132.60" y2="304.00" stroke="#06e0ff" stroke-width="2.80"/>
<line x1="132.60" y1="304.00" x2="132.60" y2="307.00" stroke="#0a2cf0" stroke-width="2.80"/>
<line x1="132.60" y1="307.00" x2="132.60" y2="310.00" stroke="#ffffff" stroke-width="2.80"/>
<line x1="132.60" y1="310.00" x2="132.60" y2="317.00" stroke="#1f7cff" stroke-width="2.80"/>
<line x1="132.60" y1="317.00" x2="132.60" y2="318.00" stroke="#06e0ff" stroke-width="2.80"/>
<line x1="132.60" y1="318.00" x2="132.60" y2="321.80" stroke="#30e030" stroke-width="2.80"/>
<line x1="132.60" y1="321.80" x2="132.60" y2="328.00" stroke="#0a2cf0" stroke-width="2.80"/>
<line x1="132.60" y1="328.00" x2="132.60" y2="334.00" stroke="#1f7cff" stroke-width="2.80"/>
<line x1="132.60" y1="334.00" x2="132.60" y2="342.80" stroke="#1f7cff" stroke-width="2.80"/>
<line x1="134.30" y1="269.70" x2="149.00" y2="269.70" stroke="#333" stroke-width="3.60"/>
<line x1="134.30" y1="269.70" x2="138.00" y2="269.70" stroke="#ffffff" stroke-width="2.40"/>
<line x1="138.00" y1="269.70" x2="140.00" y2="269.70" stroke="#06e0ff" stroke-width="2.40"/>
<line x1="140.00" y1="269.70" x2="142.70" y2="269.70" stroke="#30e030" stroke-width="2.40"/>
<line x1="142.70" y1="269.70" x2="145.50" y2="269.70" stroke="#0a2cf0" stroke-width="2.40"/>
<line x1="145.50" y1="269.70" x2="149.00" y2="269.70" stroke="#ffffff" stroke-width="2.40"/>
<line x1="117.80" y1="297.20" x2="148.20" y2="321.30" stroke="#333" stroke-width="4.00"/>
<line x1="117.80" y1="297.20" x2="119.62" y2="298.65" stroke="#40e040" stroke-width="2.80"/>
<line x1="119.62" y1="298.65" x2="123.88" y2="302.02" stroke="#0a2cf0" stroke-width="2.80"/>
<line x1="123.88" y1="302.02" x2="129.35" y2="306.36" stroke="#06e0ff" stroke-width="2.80"/>
<line x1="129.35" y1="306.36" x2="132.09" y2="308.53" stroke="#1f7cff" stroke-width="2.80"/>
<line x1="132.09" y1="308.53" x2="134.52" y2="310.45" stroke="#06e0ff" stroke-width="2.80"/>
<line x1="134.52" y1="310.45" x2="138.17" y2="313.35" stroke="#06e0ff" stroke-width="2.80"/>
<line x1="138.17" y1="313.35" x2="141.21" y2="315.76" stroke="#0a2cf0" stroke-width="2.80"/>
<line x1="141.21" y1="315.76" x2="144.55" y2="318.41" stroke="#40e040" stroke-width="2.80"/>
<line x1="144.55" y1="318.41" x2="148.20" y2="321.30" stroke="#0a2cf0" stroke-width="2.80"/>
<line x1="117.30" y1="318.90" x2="147.70" y2="295.80" stroke="#333" stroke-width="4.00"/>
<line x1="117.30" y1="318.90" x2="120.34" y2="316.59" stroke="#0a2cf0" stroke-width="2.80"/>
<line x1="120.34" y1="316.59" x2="123.68" y2="314.05" stroke="#a6f01e" stroke-width="2.80"/>
<line x1="123.68" y1="314.05" x2="126.12" y2="312.20" stroke="#06e0ff" stroke-width="2.80"/>
<line x1="126.12" y1="312.20" x2="128.55" y2="310.35" stroke="#0a2cf0" stroke-width="2.80"/>
<line x1="128.55" y1="310.35" x2="131.89" y2="307.81" stroke="#ffffff" stroke-width="2.80"/>
<line x1="131.89" y1="307.81" x2="134.02" y2="306.19" stroke="#0a2cf0" stroke-width="2.80"/>
<line x1="134.02" y1="306.19" x2="136.15" y2="304.58" stroke="#06e0ff" stroke-width="2.80"/>
<line x1="136.15" y1="304.58" x2="141.01" y2="300.88" stroke="#40e040" stroke-width="2.80"/>
<line x1="141.01" y1="300.88" x2="143.75" y2="298.80" stroke="#1f7cff" stroke-width="2.80"/>
<line x1="143.75" y1="298.80" x2="147.70" y2="295.80" stroke="#06e0ff" stroke-width="2.80"/>
<line x1="154.6" y1="328.5" x2="154.6" y2="342.6" stroke="#1a56e8" stroke-width="0.8"/>
<line x1="215.3" y1="271" x2="215.3" y2="284.6" stroke="#1a56e8" stroke-width="0.8"/>
<text x="132.60" y="204.20" font-size="6.6" font-weight="bold" fill="#111" text-anchor="middle" textLength="21.00" lengthAdjust="spacingAndGlyphs" stroke="#111" stroke-width="0.25">Well_2</text>
<text x="40.60" y="204.40" font-size="6.6" font-weight="bold" fill="#111" text-anchor="middle" textLength="21.00" lengthAdjust="spacingAndGlyphs" transform="rotate(-30.5 40.60 204.40)" stroke="#111" stroke-width="0.25">Well_6</text>
<text x="226.20" y="204.00" font-size="6.6" font-weight="bold" fill="#111" text-anchor="middle" textLength="23.00" lengthAdjust="spacingAndGlyphs" transform="rotate(31 226.20 204.00)" stroke="#111" stroke-width="0.25">Well 10</text>
<rect x="252.60" y="198.80" width="20.33" height="14.45" fill="#06e0ff"/>
<rect x="272.88" y="198.80" width="20.33" height="14.45" fill="#06fbaa"/>
<rect x="293.16" y="198.80" width="20.33" height="14.45" fill="#06fbaa"/>
<rect x="313.44" y="198.80" width="20.33" height="14.45" fill="#06fbaa"/>
<rect x="333.72" y="198.80" width="20.33" height="14.45" fill="#06fbaa"/>
<rect x="354.00" y="198.80" width="20.33" height="14.45" fill="#06fbaa"/>
<rect x="374.28" y="198.80" width="20.33" height="14.45" fill="#06e0ff"/>
<rect x="394.56" y="198.80" width="20.33" height="14.45" fill="#06e0ff"/>
<rect x="414.84" y="198.80" width="20.33" height="14.45" fill="#06fbaa"/>
<rect x="435.12" y="198.80" width="20.33" height="14.45" fill="#06e0ff"/>
<rect x="252.60" y="213.20" width="20.33" height="14.45" fill="#06fbaa"/>
<rect x="272.88" y="213.20" width="20.33" height="14.45" fill="#06fbaa"/>
<rect x="293.16" y="213.20" width="20.33" height="14.45" fill="#04fa38"/>
<rect x="313.44" y="213.20" width="20.33" height="14.45" fill="#06e0ff"/>
<rect x="333.72" y="213.20" width="20.33" height="14.45" fill="#06e0ff"/>
<rect x="354.00" y="213.20" width="20.33" height="14.45" fill="#04fa38"/>
<rect x="374.28" y="213.20" width="20.33" height="14.45" fill="#06e0ff"/>
<rect x="394.56" y="213.20" width="20.33" height="14.45" fill="#06fbaa"/>
<rect x="414.84" y="213.20" width="20.33" height="14.45" fill="#06e0ff"/>
<rect x="435.12" y="213.20" width="20.33" height="14.45" fill="#06e0ff"/>
<rect x="252.60" y="227.60" width="20.33" height="14.45" fill="#06fbaa"/>
<rect x="272.88" y="227.60" width="20.33" height="14.45" fill="#06fbaa"/>
<rect x="293.16" y="227.60" width="20.33" height="14.45" fill="#06fbaa"/>
<rect x="313.44" y="227.60" width="20.33" height="14.45" fill="#06e0ff"/>
<rect x="333.72" y="227.60" width="20.33" height="14.45" fill="#04fa38"/>
<rect x="354.00" y="227.60" width="20.33" height="14.45" fill="#06fbaa"/>
<rect x="374.28" y="227.60" width="20.33" height="14.45" fill="#06fbaa"/>
<rect x="394.56" y="227.60" width="20.33" height="14.45" fill="#06fbaa"/>
<rect x="414.84" y="227.60" width="20.33" height="14.45" fill="#06e0ff"/>
<rect x="435.12" y="227.60" width="20.33" height="14.45" fill="#06e0ff"/>
<rect x="252.60" y="242.00" width="20.33" height="14.45" fill="#06e0ff"/>
<rect x="272.88" y="242.00" width="20.33" height="14.45" fill="#06e0ff"/>
<rect x="293.16" y="242.00" width="20.33" height="14.45" fill="#06e0ff"/>
<rect x="313.44" y="242.00" width="20.33" height="14.45" fill="#06fbaa"/>
<rect x="333.72" y="242.00" width="20.33" height="14.45" fill="#06fbaa"/>
<rect x="354.00" y="242.00" width="20.33" height="14.45" fill="#06e0ff"/>
<rect x="374.28" y="242.00" width="20.33" height="14.45" fill="#04fa38"/>
<rect x="394.56" y="242.00" width="20.33" height="14.45" fill="#06fbaa"/>
<rect x="414.84" y="242.00" width="20.33" height="14.45" fill="#06fbaa"/>
<rect x="435.12" y="242.00" width="20.33" height="14.45" fill="#06fbaa"/>
<rect x="252.60" y="256.40" width="20.33" height="14.45" fill="#06fbaa"/>
<rect x="272.88" y="256.40" width="20.33" height="14.45" fill="#06fbaa"/>
<rect x="293.16" y="256.40" width="20.33" height="14.45" fill="#06fbaa"/>
<rect x="313.44" y="256.40" width="20.33" height="14.45" fill="#06e0ff"/>
<rect x="333.72" y="256.40" width="20.33" height="14.45" fill="#06e0ff"/>
<rect x="354.00" y="256.40" width="20.33" height="14.45" fill="#06fbaa"/>
<rect x="374.28" y="256.40" width="20.33" height="14.45" fill="#06fbaa"/>
<rect x="394.56" y="256.40" width="20.33" height="14.45" fill="#04fa38"/>
<rect x="414.84" y="256.40" width="20.33" height="14.45" fill="#04fa38"/>
<rect x="435.12" y="256.40" width="20.33" height="14.45" fill="#06e0ff"/>
<rect x="252.60" y="270.80" width="20.33" height="14.45" fill="#06e0ff"/>
<rect x="272.88" y="270.80" width="20.33" height="14.45" fill="#06e0ff"/>
<rect x="293.16" y="270.80" width="20.33" height="14.45" fill="#06fbaa"/>
<rect x="313.44" y="270.80" width="20.33" height="14.45" fill="#06e0ff"/>
<rect x="333.72" y="270.80" width="20.33" height="14.45" fill="#06e0ff"/>
<rect x="354.00" y="270.80" width="20.33" height="14.45" fill="#06e0ff"/>
<rect x="374.28" y="270.80" width="20.33" height="14.45" fill="#06e0ff"/>
<rect x="394.56" y="270.80" width="20.33" height="14.45" fill="#06fbaa"/>
<rect x="414.84" y="270.80" width="20.33" height="14.45" fill="#06fbaa"/>
<rect x="435.12" y="270.80" width="20.33" height="14.45" fill="#06e0ff"/>
<rect x="252.60" y="285.20" width="20.33" height="14.45" fill="#06fbaa"/>
<rect x="272.88" y="285.20" width="20.33" height="14.45" fill="#06e0ff"/>
<rect x="293.16" y="285.20" width="20.33" height="14.45" fill="#06fbaa"/>
<rect x="313.44" y="285.20" width="20.33" height="14.45" fill="#06e0ff"/>
<rect x="333.72" y="285.20" width="20.33" height="14.45" fill="#06fbaa"/>
<rect x="354.00" y="285.20" width="20.33" height="14.45" fill="#06fbaa"/>
<rect x="374.28" y="285.20" width="20.33" height="14.45" fill="#06e0ff"/>
<rect x="394.56" y="285.20" width="20.33" height="14.45" fill="#06fbaa"/>
<rect x="414.84" y="285.20" width="20.33" height="14.45" fill="#06e0ff"/>
<rect x="435.12" y="285.20" width="20.33" height="14.45" fill="#06e0ff"/>
<rect x="252.60" y="299.60" width="20.33" height="14.45" fill="#06e0ff"/>
<rect x="272.88" y="299.60" width="20.33" height="14.45" fill="#06fbaa"/>
<rect x="293.16" y="299.60" width="20.33" height="14.45" fill="#06e0ff"/>
<rect x="313.44" y="299.60" width="20.33" height="14.45" fill="#06fbaa"/>
<rect x="333.72" y="299.60" width="20.33" height="14.45" fill="#06fbaa"/>
<rect x="354.00" y="299.60" width="20.33" height="14.45" fill="#06fbaa"/>
<rect x="374.28" y="299.60" width="20.33" height="14.45" fill="#06e0ff"/>
<rect x="394.56" y="299.60" width="20.33" height="14.45" fill="#06fbaa"/>
<rect x="414.84" y="299.60" width="20.33" height="14.45" fill="#06e0ff"/>
<rect x="435.12" y="299.60" width="20.33" height="14.45" fill="#06e0ff"/>
<rect x="252.60" y="314.00" width="20.33" height="14.45" fill="#06e0ff"/>
<rect x="272.88" y="314.00" width="20.33" height="14.45" fill="#06fbaa"/>
<rect x="293.16" y="314.00" width="20.33" height="14.45" fill="#04fa38"/>
<rect x="313.44" y="314.00" width="20.33" height="14.45" fill="#06fbaa"/>
<rect x="333.72" y="314.00" width="20.33" height="14.45" fill="#06fbaa"/>
<rect x="354.00" y="314.00" width="20.33" height="14.45" fill="#06e0ff"/>
<rect x="374.28" y="314.00" width="20.33" height="14.45" fill="#06fbaa"/>
<rect x="394.56" y="314.00" width="20.33" height="14.45" fill="#06e0ff"/>
<rect x="414.84" y="314.00" width="20.33" height="14.45" fill="#06fbaa"/>
<rect x="435.12" y="314.00" width="20.33" height="14.45" fill="#04fa38"/>
<rect x="252.60" y="328.40" width="20.33" height="14.45" fill="#06e0ff"/>
<rect x="272.88" y="328.40" width="20.33" height="14.45" fill="#06fbaa"/>
<rect x="293.16" y="328.40" width="20.33" height="14.45" fill="#04fa38"/>
<rect x="313.44" y="328.40" width="20.33" height="14.45" fill="#06fbaa"/>
<rect x="333.72" y="328.40" width="20.33" height="14.45" fill="#06e0ff"/>
<rect x="354.00" y="328.40" width="20.33" height="14.45" fill="#06e0ff"/>
<rect x="374.28" y="328.40" width="20.33" height="14.45" fill="#06e0ff"/>
<rect x="394.56" y="328.40" width="20.33" height="14.45" fill="#06fbaa"/>
<rect x="414.84" y="328.40" width="20.33" height="14.45" fill="#06fbaa"/>
<rect x="435.12" y="328.40" width="20.33" height="14.45" fill="#06fbaa"/>
<g stroke="#4a8c9c" stroke-opacity="0.55" stroke-width="0.6">
<line x1="252.60" y1="198.80" x2="252.60" y2="342.80"/>
<line x1="262.74" y1="198.80" x2="262.74" y2="342.80"/>
<line x1="272.88" y1="198.80" x2="272.88" y2="342.80"/>
<line x1="283.02" y1="198.80" x2="283.02" y2="342.80"/>
<line x1="293.16" y1="198.80" x2="293.16" y2="342.80"/>
<line x1="303.30" y1="198.80" x2="303.30" y2="342.80"/>
<line x1="313.44" y1="198.80" x2="313.44" y2="342.80"/>
<line x1="323.58" y1="198.80" x2="323.58" y2="342.80"/>
<line x1="333.72" y1="198.80" x2="333.72" y2="342.80"/>
<line x1="343.86" y1="198.80" x2="343.86" y2="342.80"/>
<line x1="354.00" y1="198.80" x2="354.00" y2="342.80"/>
<line x1="364.14" y1="198.80" x2="364.14" y2="342.80"/>
<line x1="374.28" y1="198.80" x2="374.28" y2="342.80"/>
<line x1="384.42" y1="198.80" x2="384.42" y2="342.80"/>
<line x1="394.56" y1="198.80" x2="394.56" y2="342.80"/>
<line x1="404.70" y1="198.80" x2="404.70" y2="342.80"/>
<line x1="414.84" y1="198.80" x2="414.84" y2="342.80"/>
<line x1="424.98" y1="198.80" x2="424.98" y2="342.80"/>
<line x1="435.12" y1="198.80" x2="435.12" y2="342.80"/>
<line x1="445.26" y1="198.80" x2="445.26" y2="342.80"/>
<line x1="455.40" y1="198.80" x2="455.40" y2="342.80"/>
<line x1="252.60" y1="198.80" x2="455.40" y2="198.80"/>
<line x1="252.60" y1="213.20" x2="455.40" y2="213.20"/>
<line x1="252.60" y1="227.60" x2="455.40" y2="227.60"/>
<line x1="252.60" y1="242.00" x2="455.40" y2="242.00"/>
<line x1="252.60" y1="256.40" x2="455.40" y2="256.40"/>
<line x1="252.60" y1="270.80" x2="455.40" y2="270.80"/>
<line x1="252.60" y1="285.20" x2="455.40" y2="285.20"/>
<line x1="252.60" y1="299.60" x2="455.40" y2="299.60"/>
<line x1="252.60" y1="314.00" x2="455.40" y2="314.00"/>
<line x1="252.60" y1="328.40" x2="455.40" y2="328.40"/>
<line x1="252.60" y1="342.80" x2="455.40" y2="342.80"/>
</g>
<g stroke="#e2e2e2" stroke-width="0.5">
<line x1="252.60" y1="342.80" x2="252.60" y2="357.3"/>
<line x1="262.74" y1="342.80" x2="262.74" y2="357.3"/>
<line x1="272.88" y1="342.80" x2="272.88" y2="357.3"/>
<line x1="283.02" y1="342.80" x2="283.02" y2="357.3"/>
<line x1="293.16" y1="342.80" x2="293.16" y2="357.3"/>
<line x1="303.30" y1="342.80" x2="303.30" y2="357.3"/>
<line x1="313.44" y1="342.80" x2="313.44" y2="357.3"/>
<line x1="323.58" y1="342.80" x2="323.58" y2="357.3"/>
<line x1="333.72" y1="342.80" x2="333.72" y2="357.3"/>
<line x1="343.86" y1="342.80" x2="343.86" y2="357.3"/>
<line x1="354.00" y1="342.80" x2="354.00" y2="357.3"/>
<line x1="364.14" y1="342.80" x2="364.14" y2="357.3"/>
<line x1="374.28" y1="342.80" x2="374.28" y2="357.3"/>
<line x1="384.42" y1="342.80" x2="384.42" y2="357.3"/>
<line x1="394.56" y1="342.80" x2="394.56" y2="357.3"/>
<line x1="404.70" y1="342.80" x2="404.70" y2="357.3"/>
<line x1="414.84" y1="342.80" x2="414.84" y2="357.3"/>
<line x1="424.98" y1="342.80" x2="424.98" y2="357.3"/>
<line x1="435.12" y1="342.80" x2="435.12" y2="357.3"/>
<line x1="445.26" y1="342.80" x2="445.26" y2="357.3"/>
<line x1="455.40" y1="342.80" x2="455.40" y2="357.3"/>
<line x1="252.60" y1="357.3" x2="455.40" y2="357.3"/>
</g>
<line x1="250.00" y1="347.2" x2="250.00" y2="349.6" stroke="#999" stroke-width="0.6"/>
<text x="260.74" y="356.60" font-size="4.8" font-family="Liberation Serif, serif" fill="#3c3c3c" stroke="#3c3c3c" stroke-width="0.12" transform="rotate(-90 260.74 356.60)">30N</text>
<text x="270.88" y="356.60" font-size="4.8" font-family="Liberation Serif, serif" fill="#3c3c3c" stroke="#3c3c3c" stroke-width="0.12" transform="rotate(-90 270.88 356.60)">20N</text>
<text x="281.02" y="356.60" font-size="4.8" font-family="Liberation Serif, serif" fill="#3c3c3c" stroke="#3c3c3c" stroke-width="0.12" transform="rotate(-90 281.02 356.60)">10N</text>
<text x="291.16" y="356.60" font-size="4.8" font-family="Liberation Serif, serif" fill="#3c3c3c" stroke="#3c3c3c" stroke-width="0.12" transform="rotate(-90 291.16 356.60)">0N</text>
<text x="301.30" y="356.60" font-size="4.8" font-family="Liberation Serif, serif" fill="#3c3c3c" stroke="#3c3c3c" stroke-width="0.12" transform="rotate(-90 301.30 356.60)">-10N</text>
<text x="311.44" y="356.60" font-size="4.8" font-family="Liberation Serif, serif" fill="#3c3c3c" stroke="#3c3c3c" stroke-width="0.12" transform="rotate(-90 311.44 356.60)">-20N</text>
<text x="321.58" y="356.60" font-size="4.8" font-family="Liberation Serif, serif" fill="#3c3c3c" stroke="#3c3c3c" stroke-width="0.12" transform="rotate(-90 321.58 356.60)">-30N</text>
<text x="331.72" y="356.60" font-size="4.8" font-family="Liberation Serif, serif" fill="#3c3c3c" stroke="#3c3c3c" stroke-width="0.12" transform="rotate(-90 331.72 356.60)">-40N</text>
<text x="341.86" y="356.60" font-size="4.8" font-family="Liberation Serif, serif" fill="#3c3c3c" stroke="#3c3c3c" stroke-width="0.12" transform="rotate(-90 341.86 356.60)">-50N</text>
<text x="352.00" y="356.60" font-size="4.8" font-family="Liberation Serif, serif" fill="#3c3c3c" stroke="#3c3c3c" stroke-width="0.12" transform="rotate(-90 352.00 356.60)">-60N</text>
<text x="362.14" y="356.60" font-size="4.8" font-family="Liberation Serif, serif" fill="#3c3c3c" stroke="#3c3c3c" stroke-width="0.12" transform="rotate(-90 362.14 356.60)">-70N</text>
<text x="372.28" y="356.60" font-size="4.8" font-family="Liberation Serif, serif" fill="#3c3c3c" stroke="#3c3c3c" stroke-width="0.12" transform="rotate(-90 372.28 356.60)">-80N</text>
<text x="382.42" y="356.60" font-size="4.8" font-family="Liberation Serif, serif" fill="#3c3c3c" stroke="#3c3c3c" stroke-width="0.12" transform="rotate(-90 382.42 356.60)">-90N</text>
<text x="392.56" y="356.60" font-size="4.8" font-family="Liberation Serif, serif" fill="#3c3c3c" stroke="#3c3c3c" stroke-width="0.12" transform="rotate(-90 392.56 356.60)">-100N</text>
<text x="402.70" y="356.60" font-size="4.8" font-family="Liberation Serif, serif" fill="#3c3c3c" stroke="#3c3c3c" stroke-width="0.12" transform="rotate(-90 402.70 356.60)">-110N</text>
<text x="412.84" y="356.60" font-size="4.8" font-family="Liberation Serif, serif" fill="#3c3c3c" stroke="#3c3c3c" stroke-width="0.12" transform="rotate(-90 412.84 356.60)">-120N</text>
<text x="422.98" y="356.60" font-size="4.8" font-family="Liberation Serif, serif" fill="#3c3c3c" stroke="#3c3c3c" stroke-width="0.12" transform="rotate(-90 422.98 356.60)">-130N</text>
<text x="433.12" y="356.60" font-size="4.8" font-family="Liberation Serif, serif" fill="#3c3c3c" stroke="#3c3c3c" stroke-width="0.12" transform="rotate(-90 433.12 356.60)">-140N</text>
<text x="443.26" y="356.60" font-size="4.8" font-family="Liberation Serif, serif" fill="#3c3c3c" stroke="#3c3c3c" stroke-width="0.12" transform="rotate(-90 443.26 356.60)">-150N</text>
<text x="453.40" y="356.60" font-size="4.8" font-family="Liberation Serif, serif" fill="#3c3c3c" stroke="#3c3c3c" stroke-width="0.12" transform="rotate(-90 453.40 356.60)">-160N</text>
<text x="454.80" y="198.60" font-size="4.9" font-family="Liberation Serif, serif" fill="#3a3a3a" stroke="#3a3a3a" stroke-width="0.12">50Z</text>
<text x="454.80" y="213.00" font-size="4.9" font-family="Liberation Serif, serif" fill="#3a3a3a" stroke="#3a3a3a" stroke-width="0.12">40Z</text>
<text x="454.80" y="227.40" font-size="4.9" font-family="Liberation Serif, serif" fill="#3a3a3a" stroke="#3a3a3a" stroke-width="0.12">30Z</text>
<text x="454.80" y="241.80" font-size="4.9" font-family="Liberation Serif, serif" fill="#3a3a3a" stroke="#3a3a3a" stroke-width="0.12">20Z</text>
<text x="454.80" y="256.20" font-size="4.9" font-family="Liberation Serif, serif" fill="#3a3a3a" stroke="#3a3a3a" stroke-width="0.12">10Z</text>
<text x="454.80" y="270.60" font-size="4.9" font-family="Liberation Serif, serif" fill="#3a3a3a" stroke="#3a3a3a" stroke-width="0.12">0Z</text>
<text x="454.80" y="285.00" font-size="4.9" font-family="Liberation Serif, serif" fill="#3a3a3a" stroke="#3a3a3a" stroke-width="0.12">-10Z</text>
<text x="454.80" y="299.40" font-size="4.9" font-family="Liberation Serif, serif" fill="#3a3a3a" stroke="#3a3a3a" stroke-width="0.12">-20Z</text>
<text x="454.80" y="313.80" font-size="4.9" font-family="Liberation Serif, serif" fill="#3a3a3a" stroke="#3a3a3a" stroke-width="0.12">-30Z</text>
<text x="454.80" y="328.20" font-size="4.9" font-family="Liberation Serif, serif" fill="#3a3a3a" stroke="#3a3a3a" stroke-width="0.12">-40Z</text>
<text x="454.80" y="342.60" font-size="4.9" font-family="Liberation Serif, serif" fill="#3a3a3a" stroke="#3a3a3a" stroke-width="0.12">-50Z</text>
<text x="454.80" y="357.00" font-size="4.9" font-family="Liberation Serif, serif" fill="#3a3a3a" stroke="#3a3a3a" stroke-width="0.12">-60Z</text>
<line x1="261.60" y1="206.60" x2="325.70" y2="317.20" stroke="#2e6e66" stroke-width="3.70"/>
<line x1="261.60" y1="206.60" x2="283.16" y2="243.80" stroke="#30e030" stroke-width="2.60"/>
<line x1="283.16" y1="243.80" x2="293.71" y2="262.00" stroke="#06e0ff" stroke-width="2.60"/>
<line x1="293.71" y1="262.00" x2="304.72" y2="281.00" stroke="#30e030" stroke-width="2.60"/>
<line x1="304.72" y1="281.00" x2="325.70" y2="317.20" stroke="#06e0ff" stroke-width="2.60"/>
<line x1="443.40" y1="207.20" x2="378.60" y2="316.60" stroke="#2e6e66" stroke-width="3.70"/>
<line x1="443.40" y1="207.20" x2="400.87" y2="279.00" stroke="#06fbaa" stroke-width="2.60"/>
<line x1="400.87" y1="279.00" x2="389.62" y2="298.00" stroke="#06e0ff" stroke-width="2.60"/>
<line x1="389.62" y1="298.00" x2="378.60" y2="316.60" stroke="#1a5ee8" stroke-width="2.60"/>
<line x1="352.30" y1="205.50" x2="352.30" y2="336.00" stroke="#2e6e66" stroke-width="3.60"/>
<line x1="352.30" y1="205.50" x2="352.30" y2="248.00" stroke="#06e0ff" stroke-width="2.50"/>
<line x1="352.30" y1="248.00" x2="352.30" y2="256.50" stroke="#30f0c8" stroke-width="2.50"/>
<line x1="352.30" y1="256.50" x2="352.30" y2="336.00" stroke="#06e0ff" stroke-width="2.50"/>
<line x1="353.00" y1="268.35" x2="368.20" y2="268.35" stroke="#2e6e66" stroke-width="3.20"/>
<line x1="353.00" y1="268.35" x2="368.20" y2="268.35" stroke="#40e8f0" stroke-width="2.20"/>
<line x1="353.0" y1="268.35" x2="354.2" y2="268.35" stroke="#40e8f0" stroke-width="2.2"/>
<line x1="336.00" y1="298.40" x2="368.40" y2="322.00" stroke="#2e6e66" stroke-width="3.40"/>
<line x1="336.00" y1="298.40" x2="368.40" y2="322.00" stroke="#06fbaa" stroke-width="2.40"/>
<line x1="336.00" y1="319.50" x2="367.20" y2="293.50" stroke="#2e6e66" stroke-width="3.40"/>
<line x1="336.00" y1="319.50" x2="367.20" y2="293.50" stroke="#06fbaa" stroke-width="2.40"/>
<line x1="347" y1="303.5" x2="352" y2="307.2" stroke="#30e030" stroke-width="1.8"/>
<line x1="353.5" y1="335.6" x2="353.5" y2="342.6" stroke="#1a56e8" stroke-width="0.8"/>
<line x1="374.6" y1="329.4" x2="374.6" y2="342.6" stroke="#1a56e8" stroke-width="0.8"/>
<line x1="434.6" y1="271" x2="434.6" y2="284.6" stroke="#1a56e8" stroke-width="0.8"/>
<text x="352.40" y="204.20" font-size="6.6" font-weight="bold" fill="#111" text-anchor="middle" textLength="21.00" lengthAdjust="spacingAndGlyphs" stroke="#111" stroke-width="0.25">Well_2</text>
<text x="260.50" y="204.40" font-size="6.6" font-weight="bold" fill="#111" text-anchor="middle" textLength="21.00" lengthAdjust="spacingAndGlyphs" transform="rotate(-30.5 260.50 204.40)" stroke="#111" stroke-width="0.25">Well_6</text>
<text x="446.10" y="204.00" font-size="6.6" font-weight="bold" fill="#111" text-anchor="middle" textLength="23.00" lengthAdjust="spacingAndGlyphs" transform="rotate(31 446.10 204.00)" stroke="#111" stroke-width="0.25">Well 10</text>
<rect x="459.8" y="160" width="92" height="160" fill="#fff"/>
<text x="454.30" y="169.90" font-size="6.7" font-weight="bold" fill="#1a1a1a" textLength="61.00" lengthAdjust="spacingAndGlyphs" stroke="#1a1a1a" stroke-width="0.18">Calculated P32 m</text>
<text x="515.60" y="167.20" font-size="4.2" font-weight="bold" fill="#1a1a1a" textLength="3.60" lengthAdjust="spacingAndGlyphs">-1</text>
<text x="521.00" y="169.90" font-size="6.7" font-weight="bold" fill="#1a1a1a" textLength="25.00" lengthAdjust="spacingAndGlyphs" stroke="#1a1a1a" stroke-width="0.18">in Wells</text>
<line x1="467.6" y1="182" x2="467.6" y2="311.5" stroke="#888" stroke-width="0.5"/>
<line x1="467.6" y1="187.70" x2="474" y2="187.70" stroke="#888" stroke-width="0.5"/>
<rect x="474.4" y="182.70" width="9.6" height="9.8" fill="#ffffff" stroke="#555" stroke-width="0.8"/>
<text x="487.00" y="190.40" font-size="7.4" fill="#333" textLength="18.30" lengthAdjust="spacingAndGlyphs">0&#160;&#160;-&#160;&#160;3</text>
<line x1="467.6" y1="198.83" x2="474" y2="198.83" stroke="#888" stroke-width="0.5"/>
<rect x="474.4" y="193.83" width="9.6" height="9.8" fill="#0a0af5" stroke="#555" stroke-width="0.8"/>
<text x="487.00" y="201.53" font-size="7.4" fill="#333" textLength="18.30" lengthAdjust="spacingAndGlyphs">3&#160;&#160;-&#160;&#160;4</text>
<line x1="467.6" y1="209.96" x2="474" y2="209.96" stroke="#888" stroke-width="0.5"/>
<rect x="474.4" y="204.96" width="9.6" height="9.8" fill="#1e6cff" stroke="#555" stroke-width="0.8"/>
<text x="487.00" y="212.66" font-size="7.4" fill="#333" textLength="18.30" lengthAdjust="spacingAndGlyphs">4&#160;&#160;-&#160;&#160;5</text>
<line x1="467.6" y1="221.09" x2="474" y2="221.09" stroke="#888" stroke-width="0.5"/>
<rect x="474.4" y="216.09" width="9.6" height="9.8" fill="#10e4ff" stroke="#555" stroke-width="0.8"/>
<text x="487.00" y="223.79" font-size="7.4" fill="#333" textLength="18.30" lengthAdjust="spacingAndGlyphs">5&#160;&#160;-&#160;&#160;6</text>
<line x1="467.6" y1="232.22" x2="474" y2="232.22" stroke="#888" stroke-width="0.5"/>
<rect x="474.4" y="227.22" width="9.6" height="9.8" fill="#22f0b4" stroke="#555" stroke-width="0.8"/>
<text x="487.00" y="234.92" font-size="7.4" fill="#333" textLength="18.30" lengthAdjust="spacingAndGlyphs">6&#160;&#160;-&#160;&#160;7</text>
<line x1="467.6" y1="243.35" x2="474" y2="243.35" stroke="#888" stroke-width="0.5"/>
<rect x="474.4" y="238.35" width="9.6" height="9.8" fill="#10f050" stroke="#555" stroke-width="0.8"/>
<text x="487.00" y="246.05" font-size="7.4" fill="#333" textLength="18.30" lengthAdjust="spacingAndGlyphs">7&#160;&#160;-&#160;&#160;8</text>
<line x1="467.6" y1="254.48" x2="474" y2="254.48" stroke="#888" stroke-width="0.5"/>
<rect x="474.4" y="249.48" width="9.6" height="9.8" fill="#34ee2c" stroke="#555" stroke-width="0.8"/>
<text x="487.00" y="257.18" font-size="7.4" fill="#333" textLength="18.30" lengthAdjust="spacingAndGlyphs">8&#160;&#160;-&#160;&#160;9</text>
<line x1="467.6" y1="265.61" x2="474" y2="265.61" stroke="#888" stroke-width="0.5"/>
<rect x="474.4" y="260.61" width="9.6" height="9.8" fill="#a4f020" stroke="#555" stroke-width="0.8"/>
<text x="487.00" y="268.31" font-size="7.4" fill="#333" textLength="22.00" lengthAdjust="spacingAndGlyphs">9&#160;&#160;-&#160;&#160;10</text>
<line x1="467.6" y1="276.74" x2="474" y2="276.74" stroke="#888" stroke-width="0.5"/>
<rect x="474.4" y="271.74" width="9.6" height="9.8" fill="#ffd800" stroke="#555" stroke-width="0.8"/>
<text x="487.00" y="279.44" font-size="7.4" fill="#333" textLength="25.60" lengthAdjust="spacingAndGlyphs">10&#160;&#160;-&#160;&#160;11</text>
<line x1="467.6" y1="287.87" x2="474" y2="287.87" stroke="#888" stroke-width="0.5"/>
<rect x="474.4" y="282.87" width="9.6" height="9.8" fill="#ff6a00" stroke="#555" stroke-width="0.8"/>
<text x="487.00" y="290.57" font-size="7.4" fill="#333" textLength="25.60" lengthAdjust="spacingAndGlyphs">11&#160;&#160;-&#160;&#160;12</text>
<line x1="467.6" y1="299.00" x2="474" y2="299.00" stroke="#888" stroke-width="0.5"/>
<rect x="474.4" y="294.00" width="9.6" height="9.8" fill="#ff0a1e" stroke="#555" stroke-width="0.8"/>
<text x="487.00" y="301.70" font-size="7.4" fill="#333" textLength="25.60" lengthAdjust="spacingAndGlyphs">12&#160;&#160;-&#160;&#160;13</text>
<line x1="467.6" y1="310.13" x2="474" y2="310.13" stroke="#888" stroke-width="0.5"/>
<rect x="474.4" y="305.13" width="9.6" height="9.8" fill="#000000" stroke="#555" stroke-width="0.8"/>
<text x="487.00" y="312.83" font-size="7.4" fill="#333" textLength="25.60" lengthAdjust="spacingAndGlyphs">13&#160;&#160;-&#160;&#160;20</text>
<line x1="11.5" y1="350.6" x2="11.5" y2="344.5" stroke="#3a3ad8" stroke-width="0.8"/>
<polygon points="10.6,345.6 12.4,345.6 11.5,342.9" fill="#3a3ad8"/>
<line x1="11.5" y1="350.6" x2="15.8" y2="350.6" stroke="#b01818" stroke-width="0.9"/>
<polygon points="15.2,349.6 15.2,351.6 17.4,350.6" fill="#b01818"/>
<line x1="11.5" y1="350.6" x2="6.8" y2="350.6" stroke="#119911" stroke-width="0.9"/>
<polygon points="7.6,349.7 7.6,351.5 5.8,350.6" fill="#119911"/>
<text x="10.80" y="340.60" font-size="2.8" fill="#6a6ad8">Z</text>
<text x="19.00" y="351.60" font-size="2.8" fill="#e04444">X</text>
<text x="2.80" y="351.60" font-size="2.8" fill="#44bb44">Y</text>
</svg>
</body></html>
